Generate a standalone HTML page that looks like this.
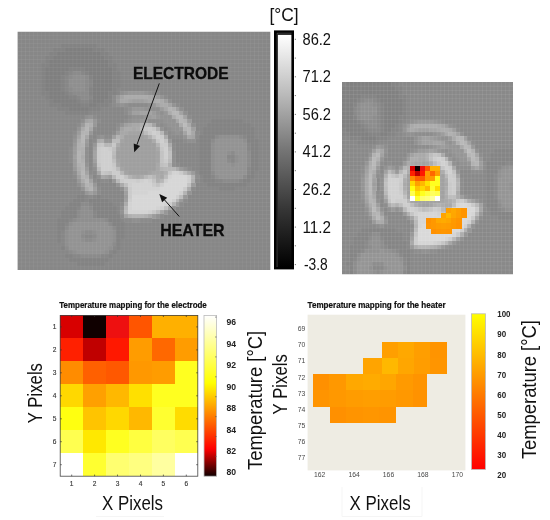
<!DOCTYPE html>
<html><head><meta charset="utf-8"><title>Temperature mapping</title>
<style>html,body{margin:0;padding:0;background:#fff;}svg{display:block;font-family:"Liberation Sans",sans-serif;}</style>
</head><body>
<svg width="550" height="520" viewBox="0 0 550 520">
<defs>
<linearGradient id="gbar" x1="0" y1="0" x2="0" y2="1"><stop offset="0" stop-color="#ffffff"/><stop offset="0.25" stop-color="#bcbcbc"/><stop offset="0.5" stop-color="#747474"/><stop offset="0.75" stop-color="#363636"/><stop offset="1" stop-color="#000000"/></linearGradient>
<linearGradient id="hot" x1="0" y1="1" x2="0" y2="0"><stop offset="0" stop-color="#100000"/><stop offset="0.17" stop-color="#ff0000"/><stop offset="0.58" stop-color="#ffff00"/><stop offset="1" stop-color="#ffffff"/></linearGradient>
<linearGradient id="aut" x1="0" y1="1" x2="0" y2="0"><stop offset="0" stop-color="#ff0000"/><stop offset="1" stop-color="#ffff00"/></linearGradient>
<filter id="soft" x="-5%" y="-5%" width="110%" height="110%"><feGaussianBlur stdDeviation="0.6"/></filter>
</defs>
<rect width="550" height="520" fill="#fff"/>
<clipPath id="cl"><rect x="17.6" y="31.7" width="252.70" height="238.30"/></clipPath>
<g clip-path="url(#cl)"><g filter="url(#soft)" shape-rendering="crispEdges">
<rect x="14.600000000000001" y="28.7" width="258.70" height="244.30" fill="rgb(135,135,135)"/>
<rect x="61.03" y="43.61" width="35.84" height="4.27" fill="rgb(131,131,131)"/>
<rect x="53.14" y="47.59" width="12.15" height="4.27" fill="rgb(131,131,131)"/>
<rect x="64.98" y="47.59" width="27.94" height="4.27" fill="rgb(127,127,127)"/>
<rect x="92.62" y="47.59" width="12.15" height="4.27" fill="rgb(131,131,131)"/>
<rect x="49.19" y="51.56" width="8.20" height="4.27" fill="rgb(131,131,131)"/>
<rect x="57.08" y="51.56" width="43.73" height="4.27" fill="rgb(127,127,127)"/>
<rect x="100.52" y="51.56" width="8.20" height="4.27" fill="rgb(131,131,131)"/>
<rect x="45.24" y="55.53" width="8.20" height="4.27" fill="rgb(131,131,131)"/>
<rect x="53.14" y="55.53" width="51.63" height="4.27" fill="rgb(127,127,127)"/>
<rect x="104.47" y="55.53" width="8.20" height="4.27" fill="rgb(131,131,131)"/>
<rect x="45.24" y="59.50" width="4.25" height="4.27" fill="rgb(131,131,131)"/>
<rect x="49.19" y="59.50" width="59.53" height="4.27" fill="rgb(127,127,127)"/>
<rect x="108.41" y="59.50" width="4.25" height="4.27" fill="rgb(131,131,131)"/>
<rect x="41.29" y="63.47" width="8.20" height="4.27" fill="rgb(131,131,131)"/>
<rect x="49.19" y="63.47" width="59.53" height="4.27" fill="rgb(127,127,127)"/>
<rect x="108.41" y="63.47" width="8.20" height="4.27" fill="rgb(131,131,131)"/>
<rect x="41.29" y="67.44" width="4.25" height="4.27" fill="rgb(131,131,131)"/>
<rect x="45.24" y="67.44" width="23.99" height="4.27" fill="rgb(127,127,127)"/>
<rect x="68.93" y="67.44" width="16.09" height="4.27" fill="rgb(131,131,131)"/>
<rect x="84.72" y="67.44" width="27.94" height="4.27" fill="rgb(127,127,127)"/>
<rect x="112.36" y="67.44" width="4.25" height="4.27" fill="rgb(131,131,131)"/>
<rect x="41.29" y="71.42" width="4.25" height="4.27" fill="rgb(131,131,131)"/>
<rect x="45.24" y="71.42" width="20.04" height="4.27" fill="rgb(127,127,127)"/>
<rect x="64.98" y="71.42" width="4.25" height="4.27" fill="rgb(131,131,131)"/>
<rect x="72.88" y="71.42" width="8.20" height="4.27" fill="rgb(139,139,139)"/>
<rect x="84.72" y="71.42" width="4.25" height="4.27" fill="rgb(131,131,131)"/>
<rect x="88.67" y="71.42" width="23.99" height="4.27" fill="rgb(127,127,127)"/>
<rect x="112.36" y="71.42" width="8.20" height="4.27" fill="rgb(131,131,131)"/>
<rect x="41.29" y="75.39" width="4.25" height="4.27" fill="rgb(131,131,131)"/>
<rect x="45.24" y="75.39" width="16.09" height="4.27" fill="rgb(127,127,127)"/>
<rect x="61.03" y="75.39" width="4.25" height="4.27" fill="rgb(131,131,131)"/>
<rect x="68.93" y="75.39" width="4.25" height="4.27" fill="rgb(139,139,139)"/>
<rect x="72.88" y="75.39" width="12.15" height="4.27" fill="rgb(143,143,143)"/>
<rect x="84.72" y="75.39" width="4.25" height="4.27" fill="rgb(139,139,139)"/>
<rect x="88.67" y="75.39" width="4.25" height="4.27" fill="rgb(131,131,131)"/>
<rect x="92.62" y="75.39" width="20.04" height="4.27" fill="rgb(127,127,127)"/>
<rect x="112.36" y="75.39" width="8.20" height="4.27" fill="rgb(131,131,131)"/>
<rect x="41.29" y="79.36" width="4.25" height="4.27" fill="rgb(131,131,131)"/>
<rect x="45.24" y="79.36" width="16.09" height="4.27" fill="rgb(127,127,127)"/>
<rect x="61.03" y="79.36" width="4.25" height="4.27" fill="rgb(131,131,131)"/>
<rect x="68.93" y="79.36" width="16.09" height="4.27" fill="rgb(143,143,143)"/>
<rect x="84.72" y="79.36" width="4.25" height="4.27" fill="rgb(139,139,139)"/>
<rect x="92.62" y="79.36" width="20.04" height="4.27" fill="rgb(127,127,127)"/>
<rect x="112.36" y="79.36" width="8.20" height="4.27" fill="rgb(131,131,131)"/>
<rect x="41.29" y="83.33" width="4.25" height="4.27" fill="rgb(131,131,131)"/>
<rect x="45.24" y="83.33" width="16.09" height="4.27" fill="rgb(127,127,127)"/>
<rect x="61.03" y="83.33" width="4.25" height="4.27" fill="rgb(131,131,131)"/>
<rect x="68.93" y="83.33" width="16.09" height="4.27" fill="rgb(143,143,143)"/>
<rect x="84.72" y="83.33" width="4.25" height="4.27" fill="rgb(139,139,139)"/>
<rect x="92.62" y="83.33" width="20.04" height="4.27" fill="rgb(127,127,127)"/>
<rect x="112.36" y="83.33" width="8.20" height="4.27" fill="rgb(131,131,131)"/>
<rect x="41.29" y="87.30" width="4.25" height="4.27" fill="rgb(131,131,131)"/>
<rect x="45.24" y="87.30" width="16.09" height="4.27" fill="rgb(127,127,127)"/>
<rect x="61.03" y="87.30" width="4.25" height="4.27" fill="rgb(131,131,131)"/>
<rect x="68.93" y="87.30" width="4.25" height="4.27" fill="rgb(139,139,139)"/>
<rect x="72.88" y="87.30" width="12.15" height="4.27" fill="rgb(143,143,143)"/>
<rect x="84.72" y="87.30" width="4.25" height="4.27" fill="rgb(139,139,139)"/>
<rect x="88.67" y="87.30" width="4.25" height="4.27" fill="rgb(131,131,131)"/>
<rect x="92.62" y="87.30" width="20.04" height="4.27" fill="rgb(127,127,127)"/>
<rect x="112.36" y="87.30" width="4.25" height="4.27" fill="rgb(131,131,131)"/>
<rect x="41.29" y="91.28" width="8.20" height="4.27" fill="rgb(131,131,131)"/>
<rect x="49.19" y="91.28" width="16.09" height="4.27" fill="rgb(127,127,127)"/>
<rect x="64.98" y="91.28" width="4.25" height="4.27" fill="rgb(131,131,131)"/>
<rect x="72.88" y="91.28" width="16.09" height="4.27" fill="rgb(139,139,139)"/>
<rect x="88.67" y="91.28" width="4.25" height="4.27" fill="rgb(131,131,131)"/>
<rect x="92.62" y="91.28" width="16.09" height="4.27" fill="rgb(127,127,127)"/>
<rect x="108.41" y="91.28" width="8.20" height="4.27" fill="rgb(131,131,131)"/>
<rect x="120.26" y="91.28" width="4.25" height="4.27" fill="rgb(143,143,143)"/>
<rect x="124.21" y="91.28" width="4.25" height="4.27" fill="rgb(147,147,147)"/>
<rect x="128.16" y="91.28" width="16.09" height="4.27" fill="rgb(151,151,151)"/>
<rect x="143.95" y="91.28" width="4.25" height="4.27" fill="rgb(147,147,147)"/>
<rect x="147.90" y="91.28" width="4.25" height="4.27" fill="rgb(143,143,143)"/>
<rect x="151.85" y="91.28" width="8.20" height="4.27" fill="rgb(139,139,139)"/>
<rect x="45.24" y="95.25" width="4.25" height="4.27" fill="rgb(131,131,131)"/>
<rect x="49.19" y="95.25" width="20.04" height="4.27" fill="rgb(127,127,127)"/>
<rect x="68.93" y="95.25" width="8.20" height="4.27" fill="rgb(131,131,131)"/>
<rect x="80.78" y="95.25" width="8.20" height="4.27" fill="rgb(139,139,139)"/>
<rect x="92.62" y="95.25" width="16.09" height="4.27" fill="rgb(127,127,127)"/>
<rect x="108.41" y="95.25" width="4.25" height="4.27" fill="rgb(131,131,131)"/>
<rect x="112.36" y="95.25" width="4.25" height="4.27" fill="rgb(139,139,139)"/>
<rect x="116.31" y="95.25" width="4.25" height="4.27" fill="rgb(151,151,151)"/>
<rect x="120.26" y="95.25" width="4.25" height="4.27" fill="rgb(163,163,163)"/>
<rect x="124.21" y="95.25" width="23.99" height="4.27" fill="rgb(171,171,171)"/>
<rect x="147.90" y="95.25" width="4.25" height="4.27" fill="rgb(167,167,167)"/>
<rect x="151.85" y="95.25" width="4.25" height="4.27" fill="rgb(163,163,163)"/>
<rect x="155.80" y="95.25" width="4.25" height="4.27" fill="rgb(155,155,155)"/>
<rect x="159.74" y="95.25" width="4.25" height="4.27" fill="rgb(147,147,147)"/>
<rect x="163.69" y="95.25" width="4.25" height="4.27" fill="rgb(139,139,139)"/>
<rect x="49.19" y="99.22" width="4.25" height="4.27" fill="rgb(131,131,131)"/>
<rect x="53.14" y="99.22" width="23.99" height="4.27" fill="rgb(127,127,127)"/>
<rect x="76.83" y="99.22" width="4.25" height="4.27" fill="rgb(131,131,131)"/>
<rect x="88.67" y="99.22" width="4.25" height="4.27" fill="rgb(131,131,131)"/>
<rect x="92.62" y="99.22" width="12.15" height="4.27" fill="rgb(127,127,127)"/>
<rect x="104.47" y="99.22" width="8.20" height="4.27" fill="rgb(131,131,131)"/>
<rect x="112.36" y="99.22" width="4.25" height="4.27" fill="rgb(139,139,139)"/>
<rect x="116.31" y="99.22" width="4.25" height="4.27" fill="rgb(155,155,155)"/>
<rect x="120.26" y="99.22" width="8.20" height="4.27" fill="rgb(167,167,167)"/>
<rect x="128.16" y="99.22" width="4.25" height="4.27" fill="rgb(163,163,163)"/>
<rect x="132.10" y="99.22" width="12.15" height="4.27" fill="rgb(159,159,159)"/>
<rect x="143.95" y="99.22" width="4.25" height="4.27" fill="rgb(163,163,163)"/>
<rect x="147.90" y="99.22" width="4.25" height="4.27" fill="rgb(167,167,167)"/>
<rect x="151.85" y="99.22" width="4.25" height="4.27" fill="rgb(171,171,171)"/>
<rect x="155.80" y="99.22" width="4.25" height="4.27" fill="rgb(175,175,175)"/>
<rect x="159.74" y="99.22" width="4.25" height="4.27" fill="rgb(171,171,171)"/>
<rect x="163.69" y="99.22" width="4.25" height="4.27" fill="rgb(159,159,159)"/>
<rect x="167.64" y="99.22" width="4.25" height="4.27" fill="rgb(143,143,143)"/>
<rect x="49.19" y="103.19" width="12.15" height="4.27" fill="rgb(131,131,131)"/>
<rect x="61.03" y="103.19" width="20.04" height="4.27" fill="rgb(127,127,127)"/>
<rect x="80.78" y="103.19" width="8.20" height="4.27" fill="rgb(131,131,131)"/>
<rect x="88.67" y="103.19" width="8.20" height="4.27" fill="rgb(127,127,127)"/>
<rect x="96.57" y="103.19" width="12.15" height="4.27" fill="rgb(131,131,131)"/>
<rect x="112.36" y="103.19" width="4.25" height="4.27" fill="rgb(139,139,139)"/>
<rect x="116.31" y="103.19" width="4.25" height="4.27" fill="rgb(143,143,143)"/>
<rect x="120.26" y="103.19" width="4.25" height="4.27" fill="rgb(147,147,147)"/>
<rect x="124.21" y="103.19" width="4.25" height="4.27" fill="rgb(143,143,143)"/>
<rect x="128.16" y="103.19" width="20.04" height="4.27" fill="rgb(139,139,139)"/>
<rect x="147.90" y="103.19" width="4.25" height="4.27" fill="rgb(143,143,143)"/>
<rect x="151.85" y="103.19" width="4.25" height="4.27" fill="rgb(151,151,151)"/>
<rect x="155.80" y="103.19" width="4.25" height="4.27" fill="rgb(163,163,163)"/>
<rect x="159.74" y="103.19" width="8.20" height="4.27" fill="rgb(171,171,171)"/>
<rect x="167.64" y="103.19" width="4.25" height="4.27" fill="rgb(163,163,163)"/>
<rect x="171.59" y="103.19" width="4.25" height="4.27" fill="rgb(147,147,147)"/>
<rect x="175.54" y="103.19" width="4.25" height="4.27" fill="rgb(139,139,139)"/>
<rect x="57.08" y="107.16" width="12.15" height="4.27" fill="rgb(131,131,131)"/>
<rect x="68.93" y="107.16" width="20.04" height="4.27" fill="rgb(127,127,127)"/>
<rect x="88.67" y="107.16" width="12.15" height="4.27" fill="rgb(131,131,131)"/>
<rect x="124.21" y="107.16" width="4.25" height="4.27" fill="rgb(139,139,139)"/>
<rect x="128.16" y="107.16" width="4.25" height="4.27" fill="rgb(143,143,143)"/>
<rect x="132.10" y="107.16" width="12.15" height="4.27" fill="rgb(151,151,151)"/>
<rect x="143.95" y="107.16" width="4.25" height="4.27" fill="rgb(147,147,147)"/>
<rect x="147.90" y="107.16" width="12.15" height="4.27" fill="rgb(143,143,143)"/>
<rect x="159.74" y="107.16" width="4.25" height="4.27" fill="rgb(155,155,155)"/>
<rect x="163.69" y="107.16" width="4.25" height="4.27" fill="rgb(167,167,167)"/>
<rect x="167.64" y="107.16" width="4.25" height="4.27" fill="rgb(179,179,179)"/>
<rect x="171.59" y="107.16" width="4.25" height="4.27" fill="rgb(175,175,175)"/>
<rect x="175.54" y="107.16" width="4.25" height="4.27" fill="rgb(159,159,159)"/>
<rect x="179.49" y="107.16" width="4.25" height="4.27" fill="rgb(143,143,143)"/>
<rect x="64.98" y="111.13" width="23.99" height="4.27" fill="rgb(131,131,131)"/>
<rect x="124.21" y="111.13" width="4.25" height="4.27" fill="rgb(139,139,139)"/>
<rect x="128.16" y="111.13" width="4.25" height="4.27" fill="rgb(147,147,147)"/>
<rect x="132.10" y="111.13" width="8.20" height="4.27" fill="rgb(159,159,159)"/>
<rect x="140.00" y="111.13" width="12.15" height="4.27" fill="rgb(163,163,163)"/>
<rect x="151.85" y="111.13" width="4.25" height="4.27" fill="rgb(155,155,155)"/>
<rect x="155.80" y="111.13" width="4.25" height="4.27" fill="rgb(147,147,147)"/>
<rect x="159.74" y="111.13" width="4.25" height="4.27" fill="rgb(143,143,143)"/>
<rect x="163.69" y="111.13" width="4.25" height="4.27" fill="rgb(151,151,151)"/>
<rect x="167.64" y="111.13" width="4.25" height="4.27" fill="rgb(171,171,171)"/>
<rect x="171.59" y="111.13" width="8.20" height="4.27" fill="rgb(183,183,183)"/>
<rect x="179.49" y="111.13" width="4.25" height="4.27" fill="rgb(163,163,163)"/>
<rect x="183.43" y="111.13" width="4.25" height="4.27" fill="rgb(143,143,143)"/>
<rect x="84.72" y="115.11" width="4.25" height="4.27" fill="rgb(143,143,143)"/>
<rect x="88.67" y="115.11" width="4.25" height="4.27" fill="rgb(147,147,147)"/>
<rect x="92.62" y="115.11" width="4.25" height="4.27" fill="rgb(139,139,139)"/>
<rect x="128.16" y="115.11" width="4.25" height="4.27" fill="rgb(139,139,139)"/>
<rect x="132.10" y="115.11" width="12.15" height="4.27" fill="rgb(143,143,143)"/>
<rect x="143.95" y="115.11" width="4.25" height="4.27" fill="rgb(147,147,147)"/>
<rect x="147.90" y="115.11" width="4.25" height="4.27" fill="rgb(155,155,155)"/>
<rect x="151.85" y="115.11" width="4.25" height="4.27" fill="rgb(159,159,159)"/>
<rect x="155.80" y="115.11" width="4.25" height="4.27" fill="rgb(151,151,151)"/>
<rect x="159.74" y="115.11" width="12.15" height="4.27" fill="rgb(147,147,147)"/>
<rect x="171.59" y="115.11" width="4.25" height="4.27" fill="rgb(171,171,171)"/>
<rect x="175.54" y="115.11" width="8.20" height="4.27" fill="rgb(183,183,183)"/>
<rect x="183.43" y="115.11" width="4.25" height="4.27" fill="rgb(163,163,163)"/>
<rect x="187.38" y="115.11" width="4.25" height="4.27" fill="rgb(139,139,139)"/>
<rect x="80.78" y="119.08" width="4.25" height="4.27" fill="rgb(143,143,143)"/>
<rect x="84.72" y="119.08" width="4.25" height="4.27" fill="rgb(163,163,163)"/>
<rect x="88.67" y="119.08" width="4.25" height="4.27" fill="rgb(167,167,167)"/>
<rect x="92.62" y="119.08" width="4.25" height="4.27" fill="rgb(151,151,151)"/>
<rect x="96.57" y="119.08" width="4.25" height="4.27" fill="rgb(139,139,139)"/>
<rect x="124.21" y="119.08" width="4.25" height="4.27" fill="rgb(139,139,139)"/>
<rect x="128.16" y="119.08" width="4.25" height="4.27" fill="rgb(143,143,143)"/>
<rect x="132.10" y="119.08" width="8.20" height="4.27" fill="rgb(147,147,147)"/>
<rect x="140.00" y="119.08" width="8.20" height="4.27" fill="rgb(151,151,151)"/>
<rect x="147.90" y="119.08" width="16.09" height="4.27" fill="rgb(143,143,143)"/>
<rect x="163.69" y="119.08" width="12.15" height="4.27" fill="rgb(147,147,147)"/>
<rect x="175.54" y="119.08" width="4.25" height="4.27" fill="rgb(167,167,167)"/>
<rect x="179.49" y="119.08" width="4.25" height="4.27" fill="rgb(183,183,183)"/>
<rect x="183.43" y="119.08" width="4.25" height="4.27" fill="rgb(179,179,179)"/>
<rect x="187.38" y="119.08" width="4.25" height="4.27" fill="rgb(155,155,155)"/>
<rect x="211.07" y="119.08" width="31.89" height="4.27" fill="rgb(131,131,131)"/>
<rect x="76.83" y="123.05" width="4.25" height="4.27" fill="rgb(139,139,139)"/>
<rect x="80.78" y="123.05" width="4.25" height="4.27" fill="rgb(155,155,155)"/>
<rect x="84.72" y="123.05" width="4.25" height="4.27" fill="rgb(179,179,179)"/>
<rect x="88.67" y="123.05" width="4.25" height="4.27" fill="rgb(175,175,175)"/>
<rect x="92.62" y="123.05" width="4.25" height="4.27" fill="rgb(151,151,151)"/>
<rect x="116.31" y="123.05" width="4.25" height="4.27" fill="rgb(139,139,139)"/>
<rect x="120.26" y="123.05" width="4.25" height="4.27" fill="rgb(147,147,147)"/>
<rect x="124.21" y="123.05" width="4.25" height="4.27" fill="rgb(159,159,159)"/>
<rect x="128.16" y="123.05" width="4.25" height="4.27" fill="rgb(163,163,163)"/>
<rect x="132.10" y="123.05" width="8.20" height="4.27" fill="rgb(167,167,167)"/>
<rect x="140.00" y="123.05" width="4.25" height="4.27" fill="rgb(175,175,175)"/>
<rect x="143.95" y="123.05" width="4.25" height="4.27" fill="rgb(187,187,187)"/>
<rect x="147.90" y="123.05" width="4.25" height="4.27" fill="rgb(183,183,183)"/>
<rect x="151.85" y="123.05" width="4.25" height="4.27" fill="rgb(163,163,163)"/>
<rect x="155.80" y="123.05" width="4.25" height="4.27" fill="rgb(143,143,143)"/>
<rect x="159.74" y="123.05" width="4.25" height="4.27" fill="rgb(139,139,139)"/>
<rect x="163.69" y="123.05" width="4.25" height="4.27" fill="rgb(143,143,143)"/>
<rect x="167.64" y="123.05" width="12.15" height="4.27" fill="rgb(147,147,147)"/>
<rect x="179.49" y="123.05" width="4.25" height="4.27" fill="rgb(171,171,171)"/>
<rect x="183.43" y="123.05" width="4.25" height="4.27" fill="rgb(187,187,187)"/>
<rect x="187.38" y="123.05" width="4.25" height="4.27" fill="rgb(171,171,171)"/>
<rect x="191.33" y="123.05" width="4.25" height="4.27" fill="rgb(143,143,143)"/>
<rect x="207.12" y="123.05" width="43.73" height="4.27" fill="rgb(131,131,131)"/>
<rect x="76.83" y="127.02" width="4.25" height="4.27" fill="rgb(147,147,147)"/>
<rect x="80.78" y="127.02" width="4.25" height="4.27" fill="rgb(171,171,171)"/>
<rect x="84.72" y="127.02" width="4.25" height="4.27" fill="rgb(183,183,183)"/>
<rect x="88.67" y="127.02" width="4.25" height="4.27" fill="rgb(167,167,167)"/>
<rect x="92.62" y="127.02" width="4.25" height="4.27" fill="rgb(139,139,139)"/>
<rect x="116.31" y="127.02" width="4.25" height="4.27" fill="rgb(143,143,143)"/>
<rect x="120.26" y="127.02" width="4.25" height="4.27" fill="rgb(163,163,163)"/>
<rect x="124.21" y="127.02" width="8.20" height="4.27" fill="rgb(171,171,171)"/>
<rect x="132.10" y="127.02" width="4.25" height="4.27" fill="rgb(167,167,167)"/>
<rect x="136.05" y="127.02" width="4.25" height="4.27" fill="rgb(171,171,171)"/>
<rect x="140.00" y="127.02" width="4.25" height="4.27" fill="rgb(183,183,183)"/>
<rect x="143.95" y="127.02" width="4.25" height="4.27" fill="rgb(199,199,199)"/>
<rect x="147.90" y="127.02" width="4.25" height="4.27" fill="rgb(203,203,203)"/>
<rect x="151.85" y="127.02" width="4.25" height="4.27" fill="rgb(199,199,199)"/>
<rect x="155.80" y="127.02" width="4.25" height="4.27" fill="rgb(179,179,179)"/>
<rect x="159.74" y="127.02" width="4.25" height="4.27" fill="rgb(147,147,147)"/>
<rect x="163.69" y="127.02" width="4.25" height="4.27" fill="rgb(139,139,139)"/>
<rect x="167.64" y="127.02" width="4.25" height="4.27" fill="rgb(143,143,143)"/>
<rect x="171.59" y="127.02" width="8.20" height="4.27" fill="rgb(147,147,147)"/>
<rect x="179.49" y="127.02" width="4.25" height="4.27" fill="rgb(151,151,151)"/>
<rect x="183.43" y="127.02" width="4.25" height="4.27" fill="rgb(179,179,179)"/>
<rect x="187.38" y="127.02" width="4.25" height="4.27" fill="rgb(183,183,183)"/>
<rect x="191.33" y="127.02" width="4.25" height="4.27" fill="rgb(159,159,159)"/>
<rect x="203.18" y="127.02" width="51.63" height="4.27" fill="rgb(131,131,131)"/>
<rect x="72.88" y="130.99" width="4.25" height="4.27" fill="rgb(139,139,139)"/>
<rect x="76.83" y="130.99" width="4.25" height="4.27" fill="rgb(155,155,155)"/>
<rect x="80.78" y="130.99" width="8.20" height="4.27" fill="rgb(179,179,179)"/>
<rect x="88.67" y="130.99" width="4.25" height="4.27" fill="rgb(151,151,151)"/>
<rect x="112.36" y="130.99" width="4.25" height="4.27" fill="rgb(139,139,139)"/>
<rect x="116.31" y="130.99" width="4.25" height="4.27" fill="rgb(155,155,155)"/>
<rect x="120.26" y="130.99" width="8.20" height="4.27" fill="rgb(167,167,167)"/>
<rect x="128.16" y="130.99" width="12.15" height="4.27" fill="rgb(163,163,163)"/>
<rect x="140.00" y="130.99" width="4.25" height="4.27" fill="rgb(171,171,171)"/>
<rect x="143.95" y="130.99" width="4.25" height="4.27" fill="rgb(187,187,187)"/>
<rect x="147.90" y="130.99" width="4.25" height="4.27" fill="rgb(199,199,199)"/>
<rect x="151.85" y="130.99" width="4.25" height="4.27" fill="rgb(207,207,207)"/>
<rect x="155.80" y="130.99" width="4.25" height="4.27" fill="rgb(203,203,203)"/>
<rect x="159.74" y="130.99" width="4.25" height="4.27" fill="rgb(183,183,183)"/>
<rect x="163.69" y="130.99" width="4.25" height="4.27" fill="rgb(147,147,147)"/>
<rect x="167.64" y="130.99" width="4.25" height="4.27" fill="rgb(139,139,139)"/>
<rect x="171.59" y="130.99" width="4.25" height="4.27" fill="rgb(143,143,143)"/>
<rect x="175.54" y="130.99" width="4.25" height="4.27" fill="rgb(147,147,147)"/>
<rect x="179.49" y="130.99" width="4.25" height="4.27" fill="rgb(143,143,143)"/>
<rect x="183.43" y="130.99" width="4.25" height="4.27" fill="rgb(163,163,163)"/>
<rect x="187.38" y="130.99" width="4.25" height="4.27" fill="rgb(183,183,183)"/>
<rect x="191.33" y="130.99" width="4.25" height="4.27" fill="rgb(167,167,167)"/>
<rect x="195.28" y="130.99" width="4.25" height="4.27" fill="rgb(139,139,139)"/>
<rect x="203.18" y="130.99" width="51.63" height="4.27" fill="rgb(131,131,131)"/>
<rect x="72.88" y="134.96" width="4.25" height="4.27" fill="rgb(143,143,143)"/>
<rect x="76.83" y="134.96" width="4.25" height="4.27" fill="rgb(163,163,163)"/>
<rect x="80.78" y="134.96" width="4.25" height="4.27" fill="rgb(183,183,183)"/>
<rect x="84.72" y="134.96" width="4.25" height="4.27" fill="rgb(167,167,167)"/>
<rect x="88.67" y="134.96" width="4.25" height="4.27" fill="rgb(139,139,139)"/>
<rect x="96.57" y="134.96" width="4.25" height="4.27" fill="rgb(143,143,143)"/>
<rect x="100.52" y="134.96" width="4.25" height="4.27" fill="rgb(147,147,147)"/>
<rect x="104.47" y="134.96" width="8.20" height="4.27" fill="rgb(139,139,139)"/>
<rect x="112.36" y="134.96" width="4.25" height="4.27" fill="rgb(159,159,159)"/>
<rect x="116.31" y="134.96" width="4.25" height="4.27" fill="rgb(179,179,179)"/>
<rect x="120.26" y="134.96" width="4.25" height="4.27" fill="rgb(171,171,171)"/>
<rect x="124.21" y="134.96" width="20.04" height="4.27" fill="rgb(159,159,159)"/>
<rect x="143.95" y="134.96" width="4.25" height="4.27" fill="rgb(163,163,163)"/>
<rect x="147.90" y="134.96" width="4.25" height="4.27" fill="rgb(175,175,175)"/>
<rect x="151.85" y="134.96" width="4.25" height="4.27" fill="rgb(195,195,195)"/>
<rect x="155.80" y="134.96" width="4.25" height="4.27" fill="rgb(207,207,207)"/>
<rect x="159.74" y="134.96" width="4.25" height="4.27" fill="rgb(203,203,203)"/>
<rect x="163.69" y="134.96" width="4.25" height="4.27" fill="rgb(171,171,171)"/>
<rect x="167.64" y="134.96" width="16.09" height="4.27" fill="rgb(139,139,139)"/>
<rect x="183.43" y="134.96" width="4.25" height="4.27" fill="rgb(147,147,147)"/>
<rect x="187.38" y="134.96" width="4.25" height="4.27" fill="rgb(167,167,167)"/>
<rect x="191.33" y="134.96" width="4.25" height="4.27" fill="rgb(163,163,163)"/>
<rect x="195.28" y="134.96" width="4.25" height="4.27" fill="rgb(139,139,139)"/>
<rect x="199.23" y="134.96" width="16.09" height="4.27" fill="rgb(131,131,131)"/>
<rect x="215.02" y="134.96" width="4.25" height="4.27" fill="rgb(139,139,139)"/>
<rect x="218.97" y="134.96" width="20.04" height="4.27" fill="rgb(143,143,143)"/>
<rect x="238.71" y="134.96" width="4.25" height="4.27" fill="rgb(139,139,139)"/>
<rect x="246.61" y="134.96" width="8.20" height="4.27" fill="rgb(131,131,131)"/>
<rect x="72.88" y="138.94" width="4.25" height="4.27" fill="rgb(147,147,147)"/>
<rect x="76.83" y="138.94" width="4.25" height="4.27" fill="rgb(171,171,171)"/>
<rect x="80.78" y="138.94" width="4.25" height="4.27" fill="rgb(183,183,183)"/>
<rect x="84.72" y="138.94" width="4.25" height="4.27" fill="rgb(155,155,155)"/>
<rect x="92.62" y="138.94" width="4.25" height="4.27" fill="rgb(139,139,139)"/>
<rect x="96.57" y="138.94" width="4.25" height="4.27" fill="rgb(171,171,171)"/>
<rect x="100.52" y="138.94" width="4.25" height="4.27" fill="rgb(175,175,175)"/>
<rect x="104.47" y="138.94" width="8.20" height="4.27" fill="rgb(151,151,151)"/>
<rect x="112.36" y="138.94" width="8.20" height="4.27" fill="rgb(187,187,187)"/>
<rect x="120.26" y="138.94" width="4.25" height="4.27" fill="rgb(163,163,163)"/>
<rect x="124.21" y="138.94" width="27.94" height="4.27" fill="rgb(159,159,159)"/>
<rect x="151.85" y="138.94" width="4.25" height="4.27" fill="rgb(171,171,171)"/>
<rect x="155.80" y="138.94" width="4.25" height="4.27" fill="rgb(199,199,199)"/>
<rect x="159.74" y="138.94" width="4.25" height="4.27" fill="rgb(207,207,207)"/>
<rect x="163.69" y="138.94" width="4.25" height="4.27" fill="rgb(195,195,195)"/>
<rect x="167.64" y="138.94" width="4.25" height="4.27" fill="rgb(151,151,151)"/>
<rect x="183.43" y="138.94" width="4.25" height="4.27" fill="rgb(139,139,139)"/>
<rect x="187.38" y="138.94" width="8.20" height="4.27" fill="rgb(143,143,143)"/>
<rect x="199.23" y="138.94" width="12.15" height="4.27" fill="rgb(131,131,131)"/>
<rect x="211.07" y="138.94" width="4.25" height="4.27" fill="rgb(139,139,139)"/>
<rect x="215.02" y="138.94" width="27.94" height="4.27" fill="rgb(147,147,147)"/>
<rect x="242.66" y="138.94" width="4.25" height="4.27" fill="rgb(143,143,143)"/>
<rect x="246.61" y="138.94" width="12.15" height="4.27" fill="rgb(131,131,131)"/>
<rect x="72.88" y="142.91" width="4.25" height="4.27" fill="rgb(151,151,151)"/>
<rect x="76.83" y="142.91" width="4.25" height="4.27" fill="rgb(175,175,175)"/>
<rect x="80.78" y="142.91" width="4.25" height="4.27" fill="rgb(179,179,179)"/>
<rect x="84.72" y="142.91" width="4.25" height="4.27" fill="rgb(151,151,151)"/>
<rect x="92.62" y="142.91" width="4.25" height="4.27" fill="rgb(151,151,151)"/>
<rect x="96.57" y="142.91" width="4.25" height="4.27" fill="rgb(195,195,195)"/>
<rect x="100.52" y="142.91" width="4.25" height="4.27" fill="rgb(199,199,199)"/>
<rect x="104.47" y="142.91" width="8.20" height="4.27" fill="rgb(183,183,183)"/>
<rect x="112.36" y="142.91" width="4.25" height="4.27" fill="rgb(199,199,199)"/>
<rect x="116.31" y="142.91" width="4.25" height="4.27" fill="rgb(171,171,171)"/>
<rect x="120.26" y="142.91" width="35.84" height="4.27" fill="rgb(159,159,159)"/>
<rect x="155.80" y="142.91" width="4.25" height="4.27" fill="rgb(179,179,179)"/>
<rect x="159.74" y="142.91" width="8.20" height="4.27" fill="rgb(203,203,203)"/>
<rect x="167.64" y="142.91" width="4.25" height="4.27" fill="rgb(171,171,171)"/>
<rect x="171.59" y="142.91" width="4.25" height="4.27" fill="rgb(139,139,139)"/>
<rect x="199.23" y="142.91" width="12.15" height="4.27" fill="rgb(131,131,131)"/>
<rect x="211.07" y="142.91" width="4.25" height="4.27" fill="rgb(143,143,143)"/>
<rect x="215.02" y="142.91" width="31.89" height="4.27" fill="rgb(147,147,147)"/>
<rect x="250.56" y="142.91" width="8.20" height="4.27" fill="rgb(131,131,131)"/>
<rect x="68.93" y="146.88" width="4.25" height="4.27" fill="rgb(139,139,139)"/>
<rect x="72.88" y="146.88" width="4.25" height="4.27" fill="rgb(155,155,155)"/>
<rect x="76.83" y="146.88" width="8.20" height="4.27" fill="rgb(175,175,175)"/>
<rect x="84.72" y="146.88" width="4.25" height="4.27" fill="rgb(143,143,143)"/>
<rect x="92.62" y="146.88" width="4.25" height="4.27" fill="rgb(159,159,159)"/>
<rect x="96.57" y="146.88" width="4.25" height="4.27" fill="rgb(203,203,203)"/>
<rect x="100.52" y="146.88" width="8.20" height="4.27" fill="rgb(207,207,207)"/>
<rect x="108.41" y="146.88" width="4.25" height="4.27" fill="rgb(203,203,203)"/>
<rect x="112.36" y="146.88" width="4.25" height="4.27" fill="rgb(191,191,191)"/>
<rect x="116.31" y="146.88" width="4.25" height="4.27" fill="rgb(163,163,163)"/>
<rect x="120.26" y="146.88" width="35.84" height="4.27" fill="rgb(159,159,159)"/>
<rect x="155.80" y="146.88" width="4.25" height="4.27" fill="rgb(167,167,167)"/>
<rect x="159.74" y="146.88" width="4.25" height="4.27" fill="rgb(199,199,199)"/>
<rect x="163.69" y="146.88" width="4.25" height="4.27" fill="rgb(207,207,207)"/>
<rect x="167.64" y="146.88" width="4.25" height="4.27" fill="rgb(183,183,183)"/>
<rect x="171.59" y="146.88" width="4.25" height="4.27" fill="rgb(139,139,139)"/>
<rect x="199.23" y="146.88" width="12.15" height="4.27" fill="rgb(131,131,131)"/>
<rect x="211.07" y="146.88" width="4.25" height="4.27" fill="rgb(143,143,143)"/>
<rect x="215.02" y="146.88" width="31.89" height="4.27" fill="rgb(147,147,147)"/>
<rect x="250.56" y="146.88" width="8.20" height="4.27" fill="rgb(131,131,131)"/>
<rect x="68.93" y="150.85" width="4.25" height="4.27" fill="rgb(139,139,139)"/>
<rect x="72.88" y="150.85" width="4.25" height="4.27" fill="rgb(155,155,155)"/>
<rect x="76.83" y="150.85" width="4.25" height="4.27" fill="rgb(179,179,179)"/>
<rect x="80.78" y="150.85" width="4.25" height="4.27" fill="rgb(175,175,175)"/>
<rect x="84.72" y="150.85" width="4.25" height="4.27" fill="rgb(143,143,143)"/>
<rect x="92.62" y="150.85" width="4.25" height="4.27" fill="rgb(163,163,163)"/>
<rect x="96.57" y="150.85" width="4.25" height="4.27" fill="rgb(203,203,203)"/>
<rect x="100.52" y="150.85" width="12.15" height="4.27" fill="rgb(207,207,207)"/>
<rect x="112.36" y="150.85" width="4.25" height="4.27" fill="rgb(187,187,187)"/>
<rect x="116.31" y="150.85" width="39.78" height="4.27" fill="rgb(159,159,159)"/>
<rect x="155.80" y="150.85" width="4.25" height="4.27" fill="rgb(163,163,163)"/>
<rect x="159.74" y="150.85" width="4.25" height="4.27" fill="rgb(195,195,195)"/>
<rect x="163.69" y="150.85" width="4.25" height="4.27" fill="rgb(207,207,207)"/>
<rect x="167.64" y="150.85" width="4.25" height="4.27" fill="rgb(191,191,191)"/>
<rect x="171.59" y="150.85" width="4.25" height="4.27" fill="rgb(143,143,143)"/>
<rect x="199.23" y="150.85" width="12.15" height="4.27" fill="rgb(131,131,131)"/>
<rect x="211.07" y="150.85" width="4.25" height="4.27" fill="rgb(143,143,143)"/>
<rect x="215.02" y="150.85" width="12.15" height="4.27" fill="rgb(147,147,147)"/>
<rect x="226.87" y="150.85" width="4.25" height="4.27" fill="rgb(143,143,143)"/>
<rect x="230.82" y="150.85" width="4.25" height="4.27" fill="rgb(139,139,139)"/>
<rect x="234.76" y="150.85" width="12.15" height="4.27" fill="rgb(147,147,147)"/>
<rect x="246.61" y="150.85" width="4.25" height="4.27" fill="rgb(139,139,139)"/>
<rect x="250.56" y="150.85" width="8.20" height="4.27" fill="rgb(131,131,131)"/>
<rect x="68.93" y="154.82" width="4.25" height="4.27" fill="rgb(139,139,139)"/>
<rect x="72.88" y="154.82" width="4.25" height="4.27" fill="rgb(159,159,159)"/>
<rect x="76.83" y="154.82" width="4.25" height="4.27" fill="rgb(179,179,179)"/>
<rect x="80.78" y="154.82" width="4.25" height="4.27" fill="rgb(171,171,171)"/>
<rect x="84.72" y="154.82" width="4.25" height="4.27" fill="rgb(143,143,143)"/>
<rect x="92.62" y="154.82" width="4.25" height="4.27" fill="rgb(163,163,163)"/>
<rect x="96.57" y="154.82" width="4.25" height="4.27" fill="rgb(203,203,203)"/>
<rect x="100.52" y="154.82" width="12.15" height="4.27" fill="rgb(207,207,207)"/>
<rect x="112.36" y="154.82" width="4.25" height="4.27" fill="rgb(183,183,183)"/>
<rect x="116.31" y="154.82" width="39.78" height="4.27" fill="rgb(159,159,159)"/>
<rect x="155.80" y="154.82" width="4.25" height="4.27" fill="rgb(163,163,163)"/>
<rect x="159.74" y="154.82" width="4.25" height="4.27" fill="rgb(195,195,195)"/>
<rect x="163.69" y="154.82" width="4.25" height="4.27" fill="rgb(207,207,207)"/>
<rect x="167.64" y="154.82" width="4.25" height="4.27" fill="rgb(191,191,191)"/>
<rect x="171.59" y="154.82" width="4.25" height="4.27" fill="rgb(143,143,143)"/>
<rect x="199.23" y="154.82" width="12.15" height="4.27" fill="rgb(131,131,131)"/>
<rect x="211.07" y="154.82" width="4.25" height="4.27" fill="rgb(143,143,143)"/>
<rect x="215.02" y="154.82" width="12.15" height="4.27" fill="rgb(147,147,147)"/>
<rect x="234.76" y="154.82" width="4.25" height="4.27" fill="rgb(143,143,143)"/>
<rect x="238.71" y="154.82" width="8.20" height="4.27" fill="rgb(147,147,147)"/>
<rect x="246.61" y="154.82" width="4.25" height="4.27" fill="rgb(139,139,139)"/>
<rect x="250.56" y="154.82" width="8.20" height="4.27" fill="rgb(131,131,131)"/>
<rect x="68.93" y="158.79" width="4.25" height="4.27" fill="rgb(139,139,139)"/>
<rect x="72.88" y="158.79" width="4.25" height="4.27" fill="rgb(155,155,155)"/>
<rect x="76.83" y="158.79" width="4.25" height="4.27" fill="rgb(179,179,179)"/>
<rect x="80.78" y="158.79" width="4.25" height="4.27" fill="rgb(175,175,175)"/>
<rect x="84.72" y="158.79" width="4.25" height="4.27" fill="rgb(143,143,143)"/>
<rect x="92.62" y="158.79" width="4.25" height="4.27" fill="rgb(159,159,159)"/>
<rect x="96.57" y="158.79" width="4.25" height="4.27" fill="rgb(203,203,203)"/>
<rect x="100.52" y="158.79" width="12.15" height="4.27" fill="rgb(207,207,207)"/>
<rect x="112.36" y="158.79" width="4.25" height="4.27" fill="rgb(191,191,191)"/>
<rect x="116.31" y="158.79" width="4.25" height="4.27" fill="rgb(163,163,163)"/>
<rect x="120.26" y="158.79" width="35.84" height="4.27" fill="rgb(159,159,159)"/>
<rect x="155.80" y="158.79" width="4.25" height="4.27" fill="rgb(163,163,163)"/>
<rect x="159.74" y="158.79" width="4.25" height="4.27" fill="rgb(195,195,195)"/>
<rect x="163.69" y="158.79" width="4.25" height="4.27" fill="rgb(203,203,203)"/>
<rect x="167.64" y="158.79" width="4.25" height="4.27" fill="rgb(187,187,187)"/>
<rect x="171.59" y="158.79" width="4.25" height="4.27" fill="rgb(143,143,143)"/>
<rect x="199.23" y="158.79" width="12.15" height="4.27" fill="rgb(131,131,131)"/>
<rect x="211.07" y="158.79" width="4.25" height="4.27" fill="rgb(143,143,143)"/>
<rect x="215.02" y="158.79" width="12.15" height="4.27" fill="rgb(147,147,147)"/>
<rect x="226.87" y="158.79" width="4.25" height="4.27" fill="rgb(139,139,139)"/>
<rect x="234.76" y="158.79" width="4.25" height="4.27" fill="rgb(143,143,143)"/>
<rect x="238.71" y="158.79" width="8.20" height="4.27" fill="rgb(147,147,147)"/>
<rect x="246.61" y="158.79" width="4.25" height="4.27" fill="rgb(139,139,139)"/>
<rect x="250.56" y="158.79" width="8.20" height="4.27" fill="rgb(131,131,131)"/>
<rect x="72.88" y="162.76" width="4.25" height="4.27" fill="rgb(155,155,155)"/>
<rect x="76.83" y="162.76" width="4.25" height="4.27" fill="rgb(175,175,175)"/>
<rect x="80.78" y="162.76" width="4.25" height="4.27" fill="rgb(179,179,179)"/>
<rect x="84.72" y="162.76" width="4.25" height="4.27" fill="rgb(147,147,147)"/>
<rect x="92.62" y="162.76" width="4.25" height="4.27" fill="rgb(151,151,151)"/>
<rect x="96.57" y="162.76" width="4.25" height="4.27" fill="rgb(199,199,199)"/>
<rect x="100.52" y="162.76" width="12.15" height="4.27" fill="rgb(207,207,207)"/>
<rect x="112.36" y="162.76" width="4.25" height="4.27" fill="rgb(199,199,199)"/>
<rect x="116.31" y="162.76" width="4.25" height="4.27" fill="rgb(167,167,167)"/>
<rect x="120.26" y="162.76" width="35.84" height="4.27" fill="rgb(159,159,159)"/>
<rect x="155.80" y="162.76" width="4.25" height="4.27" fill="rgb(167,167,167)"/>
<rect x="159.74" y="162.76" width="4.25" height="4.27" fill="rgb(191,191,191)"/>
<rect x="163.69" y="162.76" width="4.25" height="4.27" fill="rgb(195,195,195)"/>
<rect x="167.64" y="162.76" width="4.25" height="4.27" fill="rgb(175,175,175)"/>
<rect x="171.59" y="162.76" width="4.25" height="4.27" fill="rgb(143,143,143)"/>
<rect x="175.54" y="162.76" width="4.25" height="4.27" fill="rgb(139,139,139)"/>
<rect x="199.23" y="162.76" width="12.15" height="4.27" fill="rgb(131,131,131)"/>
<rect x="211.07" y="162.76" width="4.25" height="4.27" fill="rgb(143,143,143)"/>
<rect x="215.02" y="162.76" width="16.09" height="4.27" fill="rgb(147,147,147)"/>
<rect x="230.82" y="162.76" width="4.25" height="4.27" fill="rgb(143,143,143)"/>
<rect x="234.76" y="162.76" width="12.15" height="4.27" fill="rgb(147,147,147)"/>
<rect x="246.61" y="162.76" width="4.25" height="4.27" fill="rgb(139,139,139)"/>
<rect x="250.56" y="162.76" width="8.20" height="4.27" fill="rgb(131,131,131)"/>
<rect x="72.88" y="166.74" width="4.25" height="4.27" fill="rgb(151,151,151)"/>
<rect x="76.83" y="166.74" width="4.25" height="4.27" fill="rgb(171,171,171)"/>
<rect x="80.78" y="166.74" width="4.25" height="4.27" fill="rgb(179,179,179)"/>
<rect x="84.72" y="166.74" width="4.25" height="4.27" fill="rgb(155,155,155)"/>
<rect x="92.62" y="166.74" width="4.25" height="4.27" fill="rgb(143,143,143)"/>
<rect x="96.57" y="166.74" width="4.25" height="4.27" fill="rgb(187,187,187)"/>
<rect x="100.52" y="166.74" width="12.15" height="4.27" fill="rgb(207,207,207)"/>
<rect x="112.36" y="166.74" width="4.25" height="4.27" fill="rgb(203,203,203)"/>
<rect x="116.31" y="166.74" width="4.25" height="4.27" fill="rgb(187,187,187)"/>
<rect x="120.26" y="166.74" width="4.25" height="4.27" fill="rgb(163,163,163)"/>
<rect x="124.21" y="166.74" width="31.89" height="4.27" fill="rgb(159,159,159)"/>
<rect x="155.80" y="166.74" width="4.25" height="4.27" fill="rgb(167,167,167)"/>
<rect x="159.74" y="166.74" width="4.25" height="4.27" fill="rgb(179,179,179)"/>
<rect x="163.69" y="166.74" width="12.15" height="4.27" fill="rgb(183,183,183)"/>
<rect x="175.54" y="166.74" width="4.25" height="4.27" fill="rgb(171,171,171)"/>
<rect x="179.49" y="166.74" width="4.25" height="4.27" fill="rgb(155,155,155)"/>
<rect x="183.43" y="166.74" width="4.25" height="4.27" fill="rgb(147,147,147)"/>
<rect x="187.38" y="166.74" width="4.25" height="4.27" fill="rgb(139,139,139)"/>
<rect x="199.23" y="166.74" width="12.15" height="4.27" fill="rgb(131,131,131)"/>
<rect x="211.07" y="166.74" width="4.25" height="4.27" fill="rgb(143,143,143)"/>
<rect x="215.02" y="166.74" width="31.89" height="4.27" fill="rgb(147,147,147)"/>
<rect x="250.56" y="166.74" width="8.20" height="4.27" fill="rgb(131,131,131)"/>
<rect x="72.88" y="170.71" width="4.25" height="4.27" fill="rgb(143,143,143)"/>
<rect x="76.83" y="170.71" width="4.25" height="4.27" fill="rgb(167,167,167)"/>
<rect x="80.78" y="170.71" width="4.25" height="4.27" fill="rgb(183,183,183)"/>
<rect x="84.72" y="170.71" width="4.25" height="4.27" fill="rgb(163,163,163)"/>
<rect x="88.67" y="170.71" width="8.20" height="4.27" fill="rgb(139,139,139)"/>
<rect x="96.57" y="170.71" width="4.25" height="4.27" fill="rgb(167,167,167)"/>
<rect x="100.52" y="170.71" width="4.25" height="4.27" fill="rgb(199,199,199)"/>
<rect x="104.47" y="170.71" width="4.25" height="4.27" fill="rgb(195,195,195)"/>
<rect x="108.41" y="170.71" width="4.25" height="4.27" fill="rgb(191,191,191)"/>
<rect x="112.36" y="170.71" width="8.20" height="4.27" fill="rgb(203,203,203)"/>
<rect x="120.26" y="170.71" width="4.25" height="4.27" fill="rgb(183,183,183)"/>
<rect x="124.21" y="170.71" width="4.25" height="4.27" fill="rgb(163,163,163)"/>
<rect x="128.16" y="170.71" width="20.04" height="4.27" fill="rgb(159,159,159)"/>
<rect x="147.90" y="170.71" width="4.25" height="4.27" fill="rgb(163,163,163)"/>
<rect x="151.85" y="170.71" width="12.15" height="4.27" fill="rgb(167,167,167)"/>
<rect x="163.69" y="170.71" width="4.25" height="4.27" fill="rgb(175,175,175)"/>
<rect x="167.64" y="170.71" width="4.25" height="4.27" fill="rgb(199,199,199)"/>
<rect x="171.59" y="170.71" width="8.20" height="4.27" fill="rgb(211,211,211)"/>
<rect x="179.49" y="170.71" width="4.25" height="4.27" fill="rgb(203,203,203)"/>
<rect x="183.43" y="170.71" width="4.25" height="4.27" fill="rgb(187,187,187)"/>
<rect x="187.38" y="170.71" width="4.25" height="4.27" fill="rgb(171,171,171)"/>
<rect x="191.33" y="170.71" width="4.25" height="4.27" fill="rgb(155,155,155)"/>
<rect x="195.28" y="170.71" width="4.25" height="4.27" fill="rgb(139,139,139)"/>
<rect x="199.23" y="170.71" width="12.15" height="4.27" fill="rgb(131,131,131)"/>
<rect x="211.07" y="170.71" width="4.25" height="4.27" fill="rgb(139,139,139)"/>
<rect x="215.02" y="170.71" width="31.89" height="4.27" fill="rgb(147,147,147)"/>
<rect x="250.56" y="170.71" width="4.25" height="4.27" fill="rgb(131,131,131)"/>
<rect x="72.88" y="174.68" width="4.25" height="4.27" fill="rgb(139,139,139)"/>
<rect x="76.83" y="174.68" width="4.25" height="4.27" fill="rgb(159,159,159)"/>
<rect x="80.78" y="174.68" width="4.25" height="4.27" fill="rgb(179,179,179)"/>
<rect x="84.72" y="174.68" width="4.25" height="4.27" fill="rgb(175,175,175)"/>
<rect x="88.67" y="174.68" width="4.25" height="4.27" fill="rgb(147,147,147)"/>
<rect x="96.57" y="174.68" width="4.25" height="4.27" fill="rgb(143,143,143)"/>
<rect x="100.52" y="174.68" width="4.25" height="4.27" fill="rgb(167,167,167)"/>
<rect x="104.47" y="174.68" width="4.25" height="4.27" fill="rgb(163,163,163)"/>
<rect x="108.41" y="174.68" width="4.25" height="4.27" fill="rgb(155,155,155)"/>
<rect x="112.36" y="174.68" width="4.25" height="4.27" fill="rgb(183,183,183)"/>
<rect x="116.31" y="174.68" width="4.25" height="4.27" fill="rgb(203,203,203)"/>
<rect x="120.26" y="174.68" width="4.25" height="4.27" fill="rgb(207,207,207)"/>
<rect x="124.21" y="174.68" width="4.25" height="4.27" fill="rgb(195,195,195)"/>
<rect x="128.16" y="174.68" width="4.25" height="4.27" fill="rgb(179,179,179)"/>
<rect x="132.10" y="174.68" width="4.25" height="4.27" fill="rgb(171,171,171)"/>
<rect x="136.05" y="174.68" width="4.25" height="4.27" fill="rgb(167,167,167)"/>
<rect x="140.00" y="174.68" width="4.25" height="4.27" fill="rgb(171,171,171)"/>
<rect x="143.95" y="174.68" width="4.25" height="4.27" fill="rgb(183,183,183)"/>
<rect x="147.90" y="174.68" width="4.25" height="4.27" fill="rgb(191,191,191)"/>
<rect x="151.85" y="174.68" width="4.25" height="4.27" fill="rgb(183,183,183)"/>
<rect x="155.80" y="174.68" width="4.25" height="4.27" fill="rgb(171,171,171)"/>
<rect x="159.74" y="174.68" width="4.25" height="4.27" fill="rgb(167,167,167)"/>
<rect x="163.69" y="174.68" width="4.25" height="4.27" fill="rgb(187,187,187)"/>
<rect x="167.64" y="174.68" width="4.25" height="4.27" fill="rgb(211,211,211)"/>
<rect x="171.59" y="174.68" width="16.09" height="4.27" fill="rgb(215,215,215)"/>
<rect x="187.38" y="174.68" width="4.25" height="4.27" fill="rgb(207,207,207)"/>
<rect x="191.33" y="174.68" width="4.25" height="4.27" fill="rgb(179,179,179)"/>
<rect x="195.28" y="174.68" width="4.25" height="4.27" fill="rgb(143,143,143)"/>
<rect x="203.18" y="174.68" width="8.20" height="4.27" fill="rgb(131,131,131)"/>
<rect x="215.02" y="174.68" width="4.25" height="4.27" fill="rgb(143,143,143)"/>
<rect x="218.97" y="174.68" width="23.99" height="4.27" fill="rgb(147,147,147)"/>
<rect x="242.66" y="174.68" width="4.25" height="4.27" fill="rgb(139,139,139)"/>
<rect x="246.61" y="174.68" width="8.20" height="4.27" fill="rgb(131,131,131)"/>
<rect x="76.83" y="178.65" width="4.25" height="4.27" fill="rgb(151,151,151)"/>
<rect x="80.78" y="178.65" width="4.25" height="4.27" fill="rgb(171,171,171)"/>
<rect x="84.72" y="178.65" width="4.25" height="4.27" fill="rgb(183,183,183)"/>
<rect x="88.67" y="178.65" width="4.25" height="4.27" fill="rgb(163,163,163)"/>
<rect x="92.62" y="178.65" width="4.25" height="4.27" fill="rgb(139,139,139)"/>
<rect x="100.52" y="178.65" width="8.20" height="4.27" fill="rgb(139,139,139)"/>
<rect x="112.36" y="178.65" width="4.25" height="4.27" fill="rgb(151,151,151)"/>
<rect x="116.31" y="178.65" width="4.25" height="4.27" fill="rgb(183,183,183)"/>
<rect x="120.26" y="178.65" width="4.25" height="4.27" fill="rgb(203,203,203)"/>
<rect x="124.21" y="178.65" width="12.15" height="4.27" fill="rgb(207,207,207)"/>
<rect x="136.05" y="178.65" width="4.25" height="4.27" fill="rgb(203,203,203)"/>
<rect x="140.00" y="178.65" width="4.25" height="4.27" fill="rgb(207,207,207)"/>
<rect x="143.95" y="178.65" width="4.25" height="4.27" fill="rgb(211,211,211)"/>
<rect x="147.90" y="178.65" width="4.25" height="4.27" fill="rgb(207,207,207)"/>
<rect x="151.85" y="178.65" width="4.25" height="4.27" fill="rgb(195,195,195)"/>
<rect x="155.80" y="178.65" width="4.25" height="4.27" fill="rgb(175,175,175)"/>
<rect x="159.74" y="178.65" width="4.25" height="4.27" fill="rgb(183,183,183)"/>
<rect x="163.69" y="178.65" width="4.25" height="4.27" fill="rgb(207,207,207)"/>
<rect x="167.64" y="178.65" width="20.04" height="4.27" fill="rgb(215,215,215)"/>
<rect x="187.38" y="178.65" width="4.25" height="4.27" fill="rgb(207,207,207)"/>
<rect x="191.33" y="178.65" width="4.25" height="4.27" fill="rgb(175,175,175)"/>
<rect x="195.28" y="178.65" width="4.25" height="4.27" fill="rgb(139,139,139)"/>
<rect x="203.18" y="178.65" width="12.15" height="4.27" fill="rgb(131,131,131)"/>
<rect x="222.92" y="178.65" width="16.09" height="4.27" fill="rgb(139,139,139)"/>
<rect x="242.66" y="178.65" width="8.20" height="4.27" fill="rgb(131,131,131)"/>
<rect x="76.83" y="182.62" width="4.25" height="4.27" fill="rgb(143,143,143)"/>
<rect x="80.78" y="182.62" width="4.25" height="4.27" fill="rgb(159,159,159)"/>
<rect x="84.72" y="182.62" width="4.25" height="4.27" fill="rgb(179,179,179)"/>
<rect x="88.67" y="182.62" width="4.25" height="4.27" fill="rgb(175,175,175)"/>
<rect x="92.62" y="182.62" width="4.25" height="4.27" fill="rgb(151,151,151)"/>
<rect x="116.31" y="182.62" width="4.25" height="4.27" fill="rgb(147,147,147)"/>
<rect x="120.26" y="182.62" width="4.25" height="4.27" fill="rgb(171,171,171)"/>
<rect x="124.21" y="182.62" width="4.25" height="4.27" fill="rgb(191,191,191)"/>
<rect x="128.16" y="182.62" width="4.25" height="4.27" fill="rgb(207,207,207)"/>
<rect x="132.10" y="182.62" width="20.04" height="4.27" fill="rgb(211,211,211)"/>
<rect x="151.85" y="182.62" width="4.25" height="4.27" fill="rgb(203,203,203)"/>
<rect x="155.80" y="182.62" width="4.25" height="4.27" fill="rgb(195,195,195)"/>
<rect x="159.74" y="182.62" width="4.25" height="4.27" fill="rgb(207,207,207)"/>
<rect x="163.69" y="182.62" width="23.99" height="4.27" fill="rgb(215,215,215)"/>
<rect x="187.38" y="182.62" width="4.25" height="4.27" fill="rgb(195,195,195)"/>
<rect x="191.33" y="182.62" width="4.25" height="4.27" fill="rgb(155,155,155)"/>
<rect x="207.12" y="182.62" width="39.78" height="4.27" fill="rgb(131,131,131)"/>
<rect x="80.78" y="186.59" width="4.25" height="4.27" fill="rgb(147,147,147)"/>
<rect x="84.72" y="186.59" width="4.25" height="4.27" fill="rgb(171,171,171)"/>
<rect x="88.67" y="186.59" width="4.25" height="4.27" fill="rgb(179,179,179)"/>
<rect x="92.62" y="186.59" width="4.25" height="4.27" fill="rgb(159,159,159)"/>
<rect x="96.57" y="186.59" width="4.25" height="4.27" fill="rgb(139,139,139)"/>
<rect x="120.26" y="186.59" width="4.25" height="4.27" fill="rgb(143,143,143)"/>
<rect x="124.21" y="186.59" width="4.25" height="4.27" fill="rgb(167,167,167)"/>
<rect x="128.16" y="186.59" width="4.25" height="4.27" fill="rgb(203,203,203)"/>
<rect x="132.10" y="186.59" width="27.94" height="4.27" fill="rgb(211,211,211)"/>
<rect x="159.74" y="186.59" width="23.99" height="4.27" fill="rgb(215,215,215)"/>
<rect x="183.43" y="186.59" width="4.25" height="4.27" fill="rgb(203,203,203)"/>
<rect x="187.38" y="186.59" width="4.25" height="4.27" fill="rgb(171,171,171)"/>
<rect x="191.33" y="186.59" width="4.25" height="4.27" fill="rgb(139,139,139)"/>
<rect x="218.97" y="186.59" width="16.09" height="4.27" fill="rgb(131,131,131)"/>
<rect x="84.72" y="190.57" width="4.25" height="4.27" fill="rgb(151,151,151)"/>
<rect x="88.67" y="190.57" width="4.25" height="4.27" fill="rgb(159,159,159)"/>
<rect x="92.62" y="190.57" width="4.25" height="4.27" fill="rgb(151,151,151)"/>
<rect x="96.57" y="190.57" width="4.25" height="4.27" fill="rgb(139,139,139)"/>
<rect x="124.21" y="190.57" width="4.25" height="4.27" fill="rgb(159,159,159)"/>
<rect x="128.16" y="190.57" width="4.25" height="4.27" fill="rgb(203,203,203)"/>
<rect x="132.10" y="190.57" width="16.09" height="4.27" fill="rgb(211,211,211)"/>
<rect x="147.90" y="190.57" width="31.89" height="4.27" fill="rgb(215,215,215)"/>
<rect x="179.49" y="190.57" width="4.25" height="4.27" fill="rgb(207,207,207)"/>
<rect x="183.43" y="190.57" width="4.25" height="4.27" fill="rgb(179,179,179)"/>
<rect x="187.38" y="190.57" width="4.25" height="4.27" fill="rgb(147,147,147)"/>
<rect x="76.83" y="194.54" width="8.20" height="4.27" fill="rgb(131,131,131)"/>
<rect x="88.67" y="194.54" width="4.25" height="4.27" fill="rgb(139,139,139)"/>
<rect x="96.57" y="194.54" width="4.25" height="4.27" fill="rgb(131,131,131)"/>
<rect x="124.21" y="194.54" width="4.25" height="4.27" fill="rgb(155,155,155)"/>
<rect x="128.16" y="194.54" width="4.25" height="4.27" fill="rgb(203,203,203)"/>
<rect x="132.10" y="194.54" width="43.73" height="4.27" fill="rgb(215,215,215)"/>
<rect x="175.54" y="194.54" width="4.25" height="4.27" fill="rgb(207,207,207)"/>
<rect x="179.49" y="194.54" width="4.25" height="4.27" fill="rgb(187,187,187)"/>
<rect x="183.43" y="194.54" width="4.25" height="4.27" fill="rgb(151,151,151)"/>
<rect x="72.88" y="198.51" width="12.15" height="4.27" fill="rgb(131,131,131)"/>
<rect x="88.67" y="198.51" width="20.04" height="4.27" fill="rgb(131,131,131)"/>
<rect x="124.21" y="198.51" width="4.25" height="4.27" fill="rgb(159,159,159)"/>
<rect x="128.16" y="198.51" width="4.25" height="4.27" fill="rgb(207,207,207)"/>
<rect x="132.10" y="198.51" width="39.78" height="4.27" fill="rgb(215,215,215)"/>
<rect x="171.59" y="198.51" width="4.25" height="4.27" fill="rgb(207,207,207)"/>
<rect x="175.54" y="198.51" width="4.25" height="4.27" fill="rgb(183,183,183)"/>
<rect x="179.49" y="198.51" width="4.25" height="4.27" fill="rgb(155,155,155)"/>
<rect x="183.43" y="198.51" width="4.25" height="4.27" fill="rgb(139,139,139)"/>
<rect x="68.93" y="202.48" width="12.15" height="4.27" fill="rgb(131,131,131)"/>
<rect x="80.78" y="202.48" width="8.20" height="4.27" fill="rgb(139,139,139)"/>
<rect x="92.62" y="202.48" width="20.04" height="4.27" fill="rgb(131,131,131)"/>
<rect x="120.26" y="202.48" width="4.25" height="4.27" fill="rgb(139,139,139)"/>
<rect x="124.21" y="202.48" width="4.25" height="4.27" fill="rgb(171,171,171)"/>
<rect x="128.16" y="202.48" width="4.25" height="4.27" fill="rgb(211,211,211)"/>
<rect x="132.10" y="202.48" width="31.89" height="4.27" fill="rgb(215,215,215)"/>
<rect x="163.69" y="202.48" width="4.25" height="4.27" fill="rgb(211,211,211)"/>
<rect x="167.64" y="202.48" width="4.25" height="4.27" fill="rgb(203,203,203)"/>
<rect x="171.59" y="202.48" width="4.25" height="4.27" fill="rgb(179,179,179)"/>
<rect x="175.54" y="202.48" width="4.25" height="4.27" fill="rgb(155,155,155)"/>
<rect x="179.49" y="202.48" width="4.25" height="4.27" fill="rgb(139,139,139)"/>
<rect x="64.98" y="206.45" width="12.15" height="4.27" fill="rgb(131,131,131)"/>
<rect x="80.78" y="206.45" width="8.20" height="4.27" fill="rgb(143,143,143)"/>
<rect x="88.67" y="206.45" width="4.25" height="4.27" fill="rgb(139,139,139)"/>
<rect x="92.62" y="206.45" width="23.99" height="4.27" fill="rgb(131,131,131)"/>
<rect x="120.26" y="206.45" width="4.25" height="4.27" fill="rgb(143,143,143)"/>
<rect x="124.21" y="206.45" width="4.25" height="4.27" fill="rgb(183,183,183)"/>
<rect x="128.16" y="206.45" width="4.25" height="4.27" fill="rgb(211,211,211)"/>
<rect x="132.10" y="206.45" width="23.99" height="4.27" fill="rgb(215,215,215)"/>
<rect x="155.80" y="206.45" width="4.25" height="4.27" fill="rgb(211,211,211)"/>
<rect x="159.74" y="206.45" width="4.25" height="4.27" fill="rgb(207,207,207)"/>
<rect x="163.69" y="206.45" width="4.25" height="4.27" fill="rgb(191,191,191)"/>
<rect x="167.64" y="206.45" width="4.25" height="4.27" fill="rgb(167,167,167)"/>
<rect x="171.59" y="206.45" width="4.25" height="4.27" fill="rgb(143,143,143)"/>
<rect x="61.03" y="210.42" width="16.09" height="4.27" fill="rgb(131,131,131)"/>
<rect x="76.83" y="210.42" width="4.25" height="4.27" fill="rgb(139,139,139)"/>
<rect x="80.78" y="210.42" width="12.15" height="4.27" fill="rgb(143,143,143)"/>
<rect x="96.57" y="210.42" width="20.04" height="4.27" fill="rgb(131,131,131)"/>
<rect x="120.26" y="210.42" width="4.25" height="4.27" fill="rgb(147,147,147)"/>
<rect x="124.21" y="210.42" width="4.25" height="4.27" fill="rgb(187,187,187)"/>
<rect x="128.16" y="210.42" width="20.04" height="4.27" fill="rgb(211,211,211)"/>
<rect x="147.90" y="210.42" width="4.25" height="4.27" fill="rgb(207,207,207)"/>
<rect x="151.85" y="210.42" width="4.25" height="4.27" fill="rgb(199,199,199)"/>
<rect x="155.80" y="210.42" width="4.25" height="4.27" fill="rgb(187,187,187)"/>
<rect x="159.74" y="210.42" width="4.25" height="4.27" fill="rgb(167,167,167)"/>
<rect x="163.69" y="210.42" width="4.25" height="4.27" fill="rgb(151,151,151)"/>
<rect x="167.64" y="210.42" width="4.25" height="4.27" fill="rgb(139,139,139)"/>
<rect x="61.03" y="214.40" width="16.09" height="4.27" fill="rgb(131,131,131)"/>
<rect x="76.83" y="214.40" width="4.25" height="4.27" fill="rgb(139,139,139)"/>
<rect x="80.78" y="214.40" width="12.15" height="4.27" fill="rgb(143,143,143)"/>
<rect x="96.57" y="214.40" width="23.99" height="4.27" fill="rgb(131,131,131)"/>
<rect x="120.26" y="214.40" width="4.25" height="4.27" fill="rgb(139,139,139)"/>
<rect x="124.21" y="214.40" width="4.25" height="4.27" fill="rgb(163,163,163)"/>
<rect x="128.16" y="214.40" width="4.25" height="4.27" fill="rgb(175,175,175)"/>
<rect x="132.10" y="214.40" width="12.15" height="4.27" fill="rgb(179,179,179)"/>
<rect x="143.95" y="214.40" width="4.25" height="4.27" fill="rgb(175,175,175)"/>
<rect x="147.90" y="214.40" width="4.25" height="4.27" fill="rgb(167,167,167)"/>
<rect x="151.85" y="214.40" width="4.25" height="4.27" fill="rgb(155,155,155)"/>
<rect x="155.80" y="214.40" width="4.25" height="4.27" fill="rgb(147,147,147)"/>
<rect x="159.74" y="214.40" width="4.25" height="4.27" fill="rgb(139,139,139)"/>
<rect x="57.08" y="218.37" width="12.15" height="4.27" fill="rgb(131,131,131)"/>
<rect x="72.88" y="218.37" width="4.25" height="4.27" fill="rgb(139,139,139)"/>
<rect x="76.83" y="218.37" width="27.94" height="4.27" fill="rgb(143,143,143)"/>
<rect x="104.47" y="218.37" width="4.25" height="4.27" fill="rgb(139,139,139)"/>
<rect x="108.41" y="218.37" width="12.15" height="4.27" fill="rgb(131,131,131)"/>
<rect x="124.21" y="218.37" width="8.20" height="4.27" fill="rgb(139,139,139)"/>
<rect x="132.10" y="218.37" width="8.20" height="4.27" fill="rgb(143,143,143)"/>
<rect x="140.00" y="218.37" width="12.15" height="4.27" fill="rgb(139,139,139)"/>
<rect x="57.08" y="222.34" width="8.20" height="4.27" fill="rgb(131,131,131)"/>
<rect x="68.93" y="222.34" width="4.25" height="4.27" fill="rgb(143,143,143)"/>
<rect x="72.88" y="222.34" width="35.84" height="4.27" fill="rgb(147,147,147)"/>
<rect x="108.41" y="222.34" width="4.25" height="4.27" fill="rgb(139,139,139)"/>
<rect x="112.36" y="222.34" width="12.15" height="4.27" fill="rgb(131,131,131)"/>
<rect x="57.08" y="226.31" width="8.20" height="4.27" fill="rgb(131,131,131)"/>
<rect x="64.98" y="226.31" width="4.25" height="4.27" fill="rgb(139,139,139)"/>
<rect x="68.93" y="226.31" width="43.73" height="4.27" fill="rgb(147,147,147)"/>
<rect x="112.36" y="226.31" width="4.25" height="4.27" fill="rgb(139,139,139)"/>
<rect x="116.31" y="226.31" width="8.20" height="4.27" fill="rgb(131,131,131)"/>
<rect x="57.08" y="230.28" width="4.25" height="4.27" fill="rgb(131,131,131)"/>
<rect x="64.98" y="230.28" width="4.25" height="4.27" fill="rgb(143,143,143)"/>
<rect x="68.93" y="230.28" width="12.15" height="4.27" fill="rgb(147,147,147)"/>
<rect x="80.78" y="230.28" width="4.25" height="4.27" fill="rgb(143,143,143)"/>
<rect x="84.72" y="230.28" width="8.20" height="4.27" fill="rgb(139,139,139)"/>
<rect x="92.62" y="230.28" width="4.25" height="4.27" fill="rgb(143,143,143)"/>
<rect x="96.57" y="230.28" width="16.09" height="4.27" fill="rgb(147,147,147)"/>
<rect x="112.36" y="230.28" width="4.25" height="4.27" fill="rgb(143,143,143)"/>
<rect x="116.31" y="230.28" width="8.20" height="4.27" fill="rgb(131,131,131)"/>
<rect x="57.08" y="234.25" width="4.25" height="4.27" fill="rgb(131,131,131)"/>
<rect x="64.98" y="234.25" width="4.25" height="4.27" fill="rgb(143,143,143)"/>
<rect x="68.93" y="234.25" width="12.15" height="4.27" fill="rgb(147,147,147)"/>
<rect x="80.78" y="234.25" width="4.25" height="4.27" fill="rgb(139,139,139)"/>
<rect x="92.62" y="234.25" width="4.25" height="4.27" fill="rgb(139,139,139)"/>
<rect x="96.57" y="234.25" width="16.09" height="4.27" fill="rgb(147,147,147)"/>
<rect x="112.36" y="234.25" width="4.25" height="4.27" fill="rgb(143,143,143)"/>
<rect x="116.31" y="234.25" width="8.20" height="4.27" fill="rgb(131,131,131)"/>
<rect x="57.08" y="238.23" width="4.25" height="4.27" fill="rgb(131,131,131)"/>
<rect x="64.98" y="238.23" width="4.25" height="4.27" fill="rgb(143,143,143)"/>
<rect x="68.93" y="238.23" width="12.15" height="4.27" fill="rgb(147,147,147)"/>
<rect x="80.78" y="238.23" width="4.25" height="4.27" fill="rgb(143,143,143)"/>
<rect x="84.72" y="238.23" width="8.20" height="4.27" fill="rgb(139,139,139)"/>
<rect x="92.62" y="238.23" width="4.25" height="4.27" fill="rgb(143,143,143)"/>
<rect x="96.57" y="238.23" width="16.09" height="4.27" fill="rgb(147,147,147)"/>
<rect x="112.36" y="238.23" width="4.25" height="4.27" fill="rgb(143,143,143)"/>
<rect x="116.31" y="238.23" width="4.25" height="4.27" fill="rgb(131,131,131)"/>
<rect x="64.98" y="242.20" width="4.25" height="4.27" fill="rgb(143,143,143)"/>
<rect x="68.93" y="242.20" width="43.73" height="4.27" fill="rgb(147,147,147)"/>
<rect x="112.36" y="242.20" width="4.25" height="4.27" fill="rgb(139,139,139)"/>
<rect x="116.31" y="242.20" width="4.25" height="4.27" fill="rgb(131,131,131)"/>
<rect x="61.03" y="246.17" width="4.25" height="4.27" fill="rgb(131,131,131)"/>
<rect x="64.98" y="246.17" width="4.25" height="4.27" fill="rgb(139,139,139)"/>
<rect x="68.93" y="246.17" width="39.78" height="4.27" fill="rgb(147,147,147)"/>
<rect x="108.41" y="246.17" width="4.25" height="4.27" fill="rgb(143,143,143)"/>
<rect x="116.31" y="246.17" width="4.25" height="4.27" fill="rgb(131,131,131)"/>
<rect x="68.93" y="250.14" width="4.25" height="4.27" fill="rgb(139,139,139)"/>
<rect x="72.88" y="250.14" width="4.25" height="4.27" fill="rgb(143,143,143)"/>
<rect x="76.83" y="250.14" width="27.94" height="4.27" fill="rgb(147,147,147)"/>
<rect x="104.47" y="250.14" width="4.25" height="4.27" fill="rgb(143,143,143)"/>
<rect x="112.36" y="250.14" width="4.25" height="4.27" fill="rgb(131,131,131)"/>
<rect x="64.98" y="254.11" width="8.20" height="4.27" fill="rgb(131,131,131)"/>
<rect x="80.78" y="254.11" width="20.04" height="4.27" fill="rgb(139,139,139)"/>
<rect x="108.41" y="254.11" width="4.25" height="4.27" fill="rgb(131,131,131)"/>
<rect x="68.93" y="258.08" width="39.78" height="4.27" fill="rgb(131,131,131)"/>
<rect x="76.83" y="262.06" width="27.94" height="4.27" fill="rgb(131,131,131)"/>
</g>
<path d="M21.55 31.7V270.0M25.50 31.7V270.0M29.45 31.7V270.0M33.39 31.7V270.0M37.34 31.7V270.0M41.29 31.7V270.0M45.24 31.7V270.0M49.19 31.7V270.0M53.14 31.7V270.0M57.08 31.7V270.0M61.03 31.7V270.0M64.98 31.7V270.0M68.93 31.7V270.0M72.88 31.7V270.0M76.83 31.7V270.0M80.78 31.7V270.0M84.72 31.7V270.0M88.67 31.7V270.0M92.62 31.7V270.0M96.57 31.7V270.0M100.52 31.7V270.0M104.47 31.7V270.0M108.41 31.7V270.0M112.36 31.7V270.0M116.31 31.7V270.0M120.26 31.7V270.0M124.21 31.7V270.0M128.16 31.7V270.0M132.10 31.7V270.0M136.05 31.7V270.0M140.00 31.7V270.0M143.95 31.7V270.0M147.90 31.7V270.0M151.85 31.7V270.0M155.80 31.7V270.0M159.74 31.7V270.0M163.69 31.7V270.0M167.64 31.7V270.0M171.59 31.7V270.0M175.54 31.7V270.0M179.49 31.7V270.0M183.43 31.7V270.0M187.38 31.7V270.0M191.33 31.7V270.0M195.28 31.7V270.0M199.23 31.7V270.0M203.18 31.7V270.0M207.12 31.7V270.0M211.07 31.7V270.0M215.02 31.7V270.0M218.97 31.7V270.0M222.92 31.7V270.0M226.87 31.7V270.0M230.82 31.7V270.0M234.76 31.7V270.0M238.71 31.7V270.0M242.66 31.7V270.0M246.61 31.7V270.0M250.56 31.7V270.0M254.51 31.7V270.0M258.45 31.7V270.0M262.40 31.7V270.0M266.35 31.7V270.0M17.6 35.67H270.3M17.6 39.64H270.3M17.6 43.61H270.3M17.6 47.59H270.3M17.6 51.56H270.3M17.6 55.53H270.3M17.6 59.50H270.3M17.6 63.47H270.3M17.6 67.44H270.3M17.6 71.42H270.3M17.6 75.39H270.3M17.6 79.36H270.3M17.6 83.33H270.3M17.6 87.30H270.3M17.6 91.28H270.3M17.6 95.25H270.3M17.6 99.22H270.3M17.6 103.19H270.3M17.6 107.16H270.3M17.6 111.13H270.3M17.6 115.11H270.3M17.6 119.08H270.3M17.6 123.05H270.3M17.6 127.02H270.3M17.6 130.99H270.3M17.6 134.96H270.3M17.6 138.94H270.3M17.6 142.91H270.3M17.6 146.88H270.3M17.6 150.85H270.3M17.6 154.82H270.3M17.6 158.79H270.3M17.6 162.76H270.3M17.6 166.74H270.3M17.6 170.71H270.3M17.6 174.68H270.3M17.6 178.65H270.3M17.6 182.62H270.3M17.6 186.59H270.3M17.6 190.57H270.3M17.6 194.54H270.3M17.6 198.51H270.3M17.6 202.48H270.3M17.6 206.45H270.3M17.6 210.42H270.3M17.6 214.40H270.3M17.6 218.37H270.3M17.6 222.34H270.3M17.6 226.31H270.3M17.6 230.28H270.3M17.6 234.25H270.3M17.6 238.23H270.3M17.6 242.20H270.3M17.6 246.17H270.3M17.6 250.14H270.3M17.6 254.11H270.3M17.6 258.08H270.3M17.6 262.06H270.3M17.6 266.03H270.3" stroke="#fff" stroke-opacity="0.05" stroke-width="1" fill="none"/>
</g>
<g fill="#0c0c0c" stroke="#0c0c0c" stroke-width="0.3" font-weight="bold" font-size="16.4px">
<text x="132.9" y="78.7" textLength="95.8" lengthAdjust="spacingAndGlyphs">ELECTRODE</text>
<text x="160.2" y="236" textLength="64.4" lengthAdjust="spacingAndGlyphs">HEATER</text>
</g>
<line x1="159.3" y1="83.4" x2="136.9" y2="144.8" stroke="#111" stroke-width="1.0"/><polygon points="134.2,152.3 133.7,143.6 140.1,145.9" fill="#111"/>
<line x1="179.3" y1="216.5" x2="164.6" y2="200.0" stroke="#111" stroke-width="1.0"/><polygon points="159.3,194.0 167.2,197.7 162.1,202.2" fill="#111"/>
<rect x="274" y="30.4" width="20" height="239" fill="#000"/>
<rect x="277.9" y="34.8" width="13.5" height="232.4" fill="url(#gbar)"/>
<path d="M277.1 267V33.2H291.6" fill="none" stroke="#fff" stroke-opacity="0.4" stroke-width="0.6"/>
<g font-size="15.8px" fill="#111">
<text x="269.4" y="21" textLength="29.2" lengthAdjust="spacingAndGlyphs" font-size="17.6px">[°C]</text>
<text x="302.5" y="44.8" textLength="28.5" lengthAdjust="spacingAndGlyphs">86.2</text>
<text x="302.5" y="82.3" textLength="28.5" lengthAdjust="spacingAndGlyphs">71.2</text>
<text x="302.5" y="119.9" textLength="28.5" lengthAdjust="spacingAndGlyphs">56.2</text>
<text x="302.5" y="157.4" textLength="28.5" lengthAdjust="spacingAndGlyphs">41.2</text>
<text x="302.5" y="195.0" textLength="28.5" lengthAdjust="spacingAndGlyphs">26.2</text>
<text x="302.5" y="232.6" textLength="28.5" lengthAdjust="spacingAndGlyphs">11.2</text>
<text x="304.0" y="270.1" textLength="23.8" lengthAdjust="spacingAndGlyphs">-3.8</text>
</g>
<path d="M294.8 39.3h1.2M294.8 58.1h1.2M294.8 76.8h1.2M294.8 95.6h1.2M294.8 114.4h1.2M294.8 133.2h1.2M294.8 151.9h1.2M294.8 170.7h1.2M294.8 189.5h1.2M294.8 208.3h1.2M294.8 227.1h1.2M294.8 245.8h1.2M294.8 264.6h1.2" stroke="#555" stroke-width="0.8"/>
<clipPath id="cr"><rect x="342.0" y="82.0" width="171.00" height="192.20"/></clipPath>
<g clip-path="url(#cr)"><g filter="url(#soft)" shape-rendering="crispEdges">
<rect x="339.0" y="79.0" width="177.00" height="198.20" fill="rgb(137,137,137)"/>
<rect x="342.00" y="82.00" width="4.10" height="4.48" fill="rgb(133,133,133)"/>
<rect x="345.80" y="82.00" width="45.90" height="4.48" fill="rgb(129,129,129)"/>
<rect x="391.40" y="82.00" width="7.90" height="4.48" fill="rgb(133,133,133)"/>
<rect x="342.00" y="86.18" width="53.50" height="4.48" fill="rgb(129,129,129)"/>
<rect x="395.20" y="86.18" width="7.90" height="4.48" fill="rgb(133,133,133)"/>
<rect x="342.00" y="90.36" width="57.30" height="4.48" fill="rgb(129,129,129)"/>
<rect x="399.00" y="90.36" width="4.10" height="4.48" fill="rgb(133,133,133)"/>
<rect x="342.00" y="94.53" width="19.30" height="4.48" fill="rgb(129,129,129)"/>
<rect x="361.00" y="94.53" width="15.50" height="4.48" fill="rgb(133,133,133)"/>
<rect x="376.20" y="94.53" width="23.10" height="4.48" fill="rgb(129,129,129)"/>
<rect x="399.00" y="94.53" width="7.90" height="4.48" fill="rgb(133,133,133)"/>
<rect x="342.00" y="98.71" width="15.50" height="4.48" fill="rgb(129,129,129)"/>
<rect x="357.20" y="98.71" width="4.10" height="4.48" fill="rgb(133,133,133)"/>
<rect x="364.80" y="98.71" width="7.90" height="4.48" fill="rgb(141,141,141)"/>
<rect x="376.20" y="98.71" width="4.10" height="4.48" fill="rgb(133,133,133)"/>
<rect x="380.00" y="98.71" width="23.10" height="4.48" fill="rgb(129,129,129)"/>
<rect x="402.80" y="98.71" width="4.10" height="4.48" fill="rgb(133,133,133)"/>
<rect x="342.00" y="102.89" width="11.70" height="4.48" fill="rgb(129,129,129)"/>
<rect x="353.40" y="102.89" width="4.10" height="4.48" fill="rgb(133,133,133)"/>
<rect x="357.20" y="102.89" width="4.10" height="4.48" fill="rgb(141,141,141)"/>
<rect x="361.00" y="102.89" width="11.70" height="4.48" fill="rgb(145,145,145)"/>
<rect x="372.40" y="102.89" width="4.10" height="4.48" fill="rgb(141,141,141)"/>
<rect x="380.00" y="102.89" width="4.10" height="4.48" fill="rgb(133,133,133)"/>
<rect x="383.80" y="102.89" width="19.30" height="4.48" fill="rgb(129,129,129)"/>
<rect x="402.80" y="102.89" width="4.10" height="4.48" fill="rgb(133,133,133)"/>
<rect x="342.00" y="107.07" width="11.70" height="4.48" fill="rgb(129,129,129)"/>
<rect x="357.20" y="107.07" width="4.10" height="4.48" fill="rgb(141,141,141)"/>
<rect x="361.00" y="107.07" width="15.50" height="4.48" fill="rgb(145,145,145)"/>
<rect x="380.00" y="107.07" width="4.10" height="4.48" fill="rgb(133,133,133)"/>
<rect x="383.80" y="107.07" width="19.30" height="4.48" fill="rgb(129,129,129)"/>
<rect x="402.80" y="107.07" width="4.10" height="4.48" fill="rgb(133,133,133)"/>
<rect x="342.00" y="111.25" width="11.70" height="4.48" fill="rgb(129,129,129)"/>
<rect x="357.20" y="111.25" width="4.10" height="4.48" fill="rgb(141,141,141)"/>
<rect x="361.00" y="111.25" width="15.50" height="4.48" fill="rgb(145,145,145)"/>
<rect x="380.00" y="111.25" width="4.10" height="4.48" fill="rgb(133,133,133)"/>
<rect x="383.80" y="111.25" width="19.30" height="4.48" fill="rgb(129,129,129)"/>
<rect x="402.80" y="111.25" width="4.10" height="4.48" fill="rgb(133,133,133)"/>
<rect x="342.00" y="115.43" width="11.70" height="4.48" fill="rgb(129,129,129)"/>
<rect x="353.40" y="115.43" width="4.10" height="4.48" fill="rgb(133,133,133)"/>
<rect x="357.20" y="115.43" width="4.10" height="4.48" fill="rgb(141,141,141)"/>
<rect x="361.00" y="115.43" width="11.70" height="4.48" fill="rgb(145,145,145)"/>
<rect x="372.40" y="115.43" width="4.10" height="4.48" fill="rgb(141,141,141)"/>
<rect x="380.00" y="115.43" width="4.10" height="4.48" fill="rgb(133,133,133)"/>
<rect x="383.80" y="115.43" width="15.50" height="4.48" fill="rgb(129,129,129)"/>
<rect x="399.00" y="115.43" width="7.90" height="4.48" fill="rgb(133,133,133)"/>
<rect x="342.00" y="119.60" width="15.50" height="4.48" fill="rgb(129,129,129)"/>
<rect x="357.20" y="119.60" width="4.10" height="4.48" fill="rgb(133,133,133)"/>
<rect x="364.80" y="119.60" width="11.70" height="4.48" fill="rgb(141,141,141)"/>
<rect x="380.00" y="119.60" width="4.10" height="4.48" fill="rgb(133,133,133)"/>
<rect x="383.80" y="119.60" width="15.50" height="4.48" fill="rgb(129,129,129)"/>
<rect x="399.00" y="119.60" width="4.10" height="4.48" fill="rgb(133,133,133)"/>
<rect x="406.60" y="119.60" width="4.10" height="4.48" fill="rgb(141,141,141)"/>
<rect x="410.40" y="119.60" width="4.10" height="4.48" fill="rgb(145,145,145)"/>
<rect x="414.20" y="119.60" width="4.10" height="4.48" fill="rgb(149,149,149)"/>
<rect x="418.00" y="119.60" width="15.50" height="4.48" fill="rgb(153,153,153)"/>
<rect x="433.20" y="119.60" width="4.10" height="4.48" fill="rgb(149,149,149)"/>
<rect x="437.00" y="119.60" width="4.10" height="4.48" fill="rgb(145,145,145)"/>
<rect x="440.80" y="119.60" width="4.10" height="4.48" fill="rgb(141,141,141)"/>
<rect x="342.00" y="123.78" width="19.30" height="4.48" fill="rgb(129,129,129)"/>
<rect x="361.00" y="123.78" width="4.10" height="4.48" fill="rgb(133,133,133)"/>
<rect x="368.60" y="123.78" width="7.90" height="4.48" fill="rgb(141,141,141)"/>
<rect x="380.00" y="123.78" width="4.10" height="4.48" fill="rgb(133,133,133)"/>
<rect x="383.80" y="123.78" width="11.70" height="4.48" fill="rgb(129,129,129)"/>
<rect x="395.20" y="123.78" width="4.10" height="4.48" fill="rgb(133,133,133)"/>
<rect x="402.80" y="123.78" width="4.10" height="4.48" fill="rgb(145,145,145)"/>
<rect x="406.60" y="123.78" width="4.10" height="4.48" fill="rgb(157,157,157)"/>
<rect x="410.40" y="123.78" width="4.10" height="4.48" fill="rgb(169,169,169)"/>
<rect x="414.20" y="123.78" width="23.10" height="4.48" fill="rgb(173,173,173)"/>
<rect x="437.00" y="123.78" width="4.10" height="4.48" fill="rgb(169,169,169)"/>
<rect x="440.80" y="123.78" width="4.10" height="4.48" fill="rgb(165,165,165)"/>
<rect x="444.60" y="123.78" width="4.10" height="4.48" fill="rgb(157,157,157)"/>
<rect x="448.40" y="123.78" width="4.10" height="4.48" fill="rgb(145,145,145)"/>
<rect x="452.20" y="123.78" width="4.10" height="4.48" fill="rgb(141,141,141)"/>
<rect x="342.00" y="127.96" width="4.10" height="4.48" fill="rgb(133,133,133)"/>
<rect x="345.80" y="127.96" width="19.30" height="4.48" fill="rgb(129,129,129)"/>
<rect x="364.80" y="127.96" width="4.10" height="4.48" fill="rgb(133,133,133)"/>
<rect x="380.00" y="127.96" width="4.10" height="4.48" fill="rgb(133,133,133)"/>
<rect x="383.80" y="127.96" width="7.90" height="4.48" fill="rgb(129,129,129)"/>
<rect x="391.40" y="127.96" width="7.90" height="4.48" fill="rgb(133,133,133)"/>
<rect x="402.80" y="127.96" width="4.10" height="4.48" fill="rgb(149,149,149)"/>
<rect x="406.60" y="127.96" width="4.10" height="4.48" fill="rgb(165,165,165)"/>
<rect x="410.40" y="127.96" width="4.10" height="4.48" fill="rgb(169,169,169)"/>
<rect x="414.20" y="127.96" width="4.10" height="4.48" fill="rgb(165,165,165)"/>
<rect x="418.00" y="127.96" width="11.70" height="4.48" fill="rgb(161,161,161)"/>
<rect x="429.40" y="127.96" width="7.90" height="4.48" fill="rgb(165,165,165)"/>
<rect x="437.00" y="127.96" width="4.10" height="4.48" fill="rgb(169,169,169)"/>
<rect x="440.80" y="127.96" width="7.90" height="4.48" fill="rgb(173,173,173)"/>
<rect x="448.40" y="127.96" width="4.10" height="4.48" fill="rgb(169,169,169)"/>
<rect x="452.20" y="127.96" width="4.10" height="4.48" fill="rgb(157,157,157)"/>
<rect x="456.00" y="127.96" width="4.10" height="4.48" fill="rgb(141,141,141)"/>
<rect x="342.00" y="132.14" width="7.90" height="4.48" fill="rgb(133,133,133)"/>
<rect x="349.60" y="132.14" width="19.30" height="4.48" fill="rgb(129,129,129)"/>
<rect x="368.60" y="132.14" width="11.70" height="4.48" fill="rgb(133,133,133)"/>
<rect x="380.00" y="132.14" width="7.90" height="4.48" fill="rgb(129,129,129)"/>
<rect x="387.60" y="132.14" width="7.90" height="4.48" fill="rgb(133,133,133)"/>
<rect x="402.80" y="132.14" width="4.10" height="4.48" fill="rgb(141,141,141)"/>
<rect x="406.60" y="132.14" width="7.90" height="4.48" fill="rgb(145,145,145)"/>
<rect x="414.20" y="132.14" width="19.30" height="4.48" fill="rgb(141,141,141)"/>
<rect x="433.20" y="132.14" width="4.10" height="4.48" fill="rgb(145,145,145)"/>
<rect x="437.00" y="132.14" width="4.10" height="4.48" fill="rgb(149,149,149)"/>
<rect x="440.80" y="132.14" width="4.10" height="4.48" fill="rgb(157,157,157)"/>
<rect x="444.60" y="132.14" width="4.10" height="4.48" fill="rgb(169,169,169)"/>
<rect x="448.40" y="132.14" width="4.10" height="4.48" fill="rgb(177,177,177)"/>
<rect x="452.20" y="132.14" width="4.10" height="4.48" fill="rgb(173,173,173)"/>
<rect x="456.00" y="132.14" width="4.10" height="4.48" fill="rgb(161,161,161)"/>
<rect x="459.80" y="132.14" width="4.10" height="4.48" fill="rgb(145,145,145)"/>
<rect x="349.60" y="136.32" width="11.70" height="4.48" fill="rgb(133,133,133)"/>
<rect x="361.00" y="136.32" width="15.50" height="4.48" fill="rgb(129,129,129)"/>
<rect x="376.20" y="136.32" width="11.70" height="4.48" fill="rgb(133,133,133)"/>
<rect x="414.20" y="136.32" width="4.10" height="4.48" fill="rgb(145,145,145)"/>
<rect x="418.00" y="136.32" width="4.10" height="4.48" fill="rgb(153,153,153)"/>
<rect x="421.80" y="136.32" width="7.90" height="4.48" fill="rgb(161,161,161)"/>
<rect x="429.40" y="136.32" width="4.10" height="4.48" fill="rgb(157,157,157)"/>
<rect x="433.20" y="136.32" width="4.10" height="4.48" fill="rgb(153,153,153)"/>
<rect x="437.00" y="136.32" width="4.10" height="4.48" fill="rgb(149,149,149)"/>
<rect x="440.80" y="136.32" width="7.90" height="4.48" fill="rgb(145,145,145)"/>
<rect x="448.40" y="136.32" width="4.10" height="4.48" fill="rgb(153,153,153)"/>
<rect x="452.20" y="136.32" width="4.10" height="4.48" fill="rgb(169,169,169)"/>
<rect x="456.00" y="136.32" width="7.90" height="4.48" fill="rgb(181,181,181)"/>
<rect x="463.60" y="136.32" width="4.10" height="4.48" fill="rgb(161,161,161)"/>
<rect x="467.40" y="136.32" width="4.10" height="4.48" fill="rgb(141,141,141)"/>
<rect x="357.20" y="140.50" width="19.30" height="4.48" fill="rgb(133,133,133)"/>
<rect x="414.20" y="140.50" width="4.10" height="4.48" fill="rgb(145,145,145)"/>
<rect x="418.00" y="140.50" width="4.10" height="4.48" fill="rgb(153,153,153)"/>
<rect x="421.80" y="140.50" width="11.70" height="4.48" fill="rgb(161,161,161)"/>
<rect x="433.20" y="140.50" width="7.90" height="4.48" fill="rgb(165,165,165)"/>
<rect x="440.80" y="140.50" width="4.10" height="4.48" fill="rgb(161,161,161)"/>
<rect x="444.60" y="140.50" width="4.10" height="4.48" fill="rgb(149,149,149)"/>
<rect x="448.40" y="140.50" width="4.10" height="4.48" fill="rgb(145,145,145)"/>
<rect x="452.20" y="140.50" width="4.10" height="4.48" fill="rgb(153,153,153)"/>
<rect x="456.00" y="140.50" width="4.10" height="4.48" fill="rgb(173,173,173)"/>
<rect x="459.80" y="140.50" width="4.10" height="4.48" fill="rgb(185,185,185)"/>
<rect x="463.60" y="140.50" width="4.10" height="4.48" fill="rgb(181,181,181)"/>
<rect x="467.40" y="140.50" width="4.10" height="4.48" fill="rgb(161,161,161)"/>
<rect x="471.20" y="140.50" width="4.10" height="4.48" fill="rgb(141,141,141)"/>
<rect x="372.40" y="144.67" width="4.10" height="4.48" fill="rgb(141,141,141)"/>
<rect x="376.20" y="144.67" width="4.10" height="4.48" fill="rgb(153,153,153)"/>
<rect x="380.00" y="144.67" width="4.10" height="4.48" fill="rgb(149,149,149)"/>
<rect x="383.80" y="144.67" width="4.10" height="4.48" fill="rgb(141,141,141)"/>
<rect x="418.00" y="144.67" width="11.70" height="4.48" fill="rgb(141,141,141)"/>
<rect x="429.40" y="144.67" width="4.10" height="4.48" fill="rgb(145,145,145)"/>
<rect x="433.20" y="144.67" width="4.10" height="4.48" fill="rgb(149,149,149)"/>
<rect x="437.00" y="144.67" width="4.10" height="4.48" fill="rgb(153,153,153)"/>
<rect x="440.80" y="144.67" width="4.10" height="4.48" fill="rgb(157,157,157)"/>
<rect x="444.60" y="144.67" width="4.10" height="4.48" fill="rgb(153,153,153)"/>
<rect x="448.40" y="144.67" width="11.70" height="4.48" fill="rgb(149,149,149)"/>
<rect x="459.80" y="144.67" width="4.10" height="4.48" fill="rgb(169,169,169)"/>
<rect x="463.60" y="144.67" width="4.10" height="4.48" fill="rgb(185,185,185)"/>
<rect x="467.40" y="144.67" width="4.10" height="4.48" fill="rgb(181,181,181)"/>
<rect x="471.20" y="144.67" width="4.10" height="4.48" fill="rgb(153,153,153)"/>
<rect x="368.60" y="148.85" width="4.10" height="4.48" fill="rgb(141,141,141)"/>
<rect x="372.40" y="148.85" width="4.10" height="4.48" fill="rgb(157,157,157)"/>
<rect x="376.20" y="148.85" width="4.10" height="4.48" fill="rgb(173,173,173)"/>
<rect x="380.00" y="148.85" width="4.10" height="4.48" fill="rgb(165,165,165)"/>
<rect x="383.80" y="148.85" width="4.10" height="4.48" fill="rgb(145,145,145)"/>
<rect x="410.40" y="148.85" width="4.10" height="4.48" fill="rgb(141,141,141)"/>
<rect x="414.20" y="148.85" width="4.10" height="4.48" fill="rgb(145,145,145)"/>
<rect x="418.00" y="148.85" width="7.90" height="4.48" fill="rgb(153,153,153)"/>
<rect x="425.60" y="148.85" width="4.10" height="4.48" fill="rgb(157,157,157)"/>
<rect x="429.40" y="148.85" width="4.10" height="4.48" fill="rgb(161,161,161)"/>
<rect x="433.20" y="148.85" width="4.10" height="4.48" fill="rgb(157,157,157)"/>
<rect x="437.00" y="148.85" width="4.10" height="4.48" fill="rgb(149,149,149)"/>
<rect x="440.80" y="148.85" width="4.10" height="4.48" fill="rgb(145,145,145)"/>
<rect x="444.60" y="148.85" width="4.10" height="4.48" fill="rgb(141,141,141)"/>
<rect x="448.40" y="148.85" width="4.10" height="4.48" fill="rgb(145,145,145)"/>
<rect x="452.20" y="148.85" width="11.70" height="4.48" fill="rgb(149,149,149)"/>
<rect x="463.60" y="148.85" width="4.10" height="4.48" fill="rgb(173,173,173)"/>
<rect x="467.40" y="148.85" width="4.10" height="4.48" fill="rgb(189,189,189)"/>
<rect x="471.20" y="148.85" width="4.10" height="4.48" fill="rgb(177,177,177)"/>
<rect x="475.00" y="148.85" width="4.10" height="4.48" fill="rgb(145,145,145)"/>
<rect x="494.00" y="148.85" width="19.30" height="4.48" fill="rgb(133,133,133)"/>
<rect x="368.60" y="153.03" width="4.10" height="4.48" fill="rgb(149,149,149)"/>
<rect x="372.40" y="153.03" width="4.10" height="4.48" fill="rgb(177,177,177)"/>
<rect x="376.20" y="153.03" width="4.10" height="4.48" fill="rgb(185,185,185)"/>
<rect x="380.00" y="153.03" width="4.10" height="4.48" fill="rgb(161,161,161)"/>
<rect x="383.80" y="153.03" width="4.10" height="4.48" fill="rgb(141,141,141)"/>
<rect x="406.60" y="153.03" width="4.10" height="4.48" fill="rgb(149,149,149)"/>
<rect x="410.40" y="153.03" width="4.10" height="4.48" fill="rgb(161,161,161)"/>
<rect x="414.20" y="153.03" width="11.70" height="4.48" fill="rgb(169,169,169)"/>
<rect x="425.60" y="153.03" width="4.10" height="4.48" fill="rgb(177,177,177)"/>
<rect x="429.40" y="153.03" width="4.10" height="4.48" fill="rgb(189,189,189)"/>
<rect x="433.20" y="153.03" width="4.10" height="4.48" fill="rgb(197,197,197)"/>
<rect x="437.00" y="153.03" width="4.10" height="4.48" fill="rgb(193,193,193)"/>
<rect x="440.80" y="153.03" width="4.10" height="4.48" fill="rgb(169,169,169)"/>
<rect x="444.60" y="153.03" width="4.10" height="4.48" fill="rgb(145,145,145)"/>
<rect x="448.40" y="153.03" width="4.10" height="4.48" fill="rgb(141,141,141)"/>
<rect x="452.20" y="153.03" width="4.10" height="4.48" fill="rgb(145,145,145)"/>
<rect x="456.00" y="153.03" width="7.90" height="4.48" fill="rgb(149,149,149)"/>
<rect x="463.60" y="153.03" width="4.10" height="4.48" fill="rgb(153,153,153)"/>
<rect x="467.40" y="153.03" width="4.10" height="4.48" fill="rgb(181,181,181)"/>
<rect x="471.20" y="153.03" width="4.10" height="4.48" fill="rgb(185,185,185)"/>
<rect x="475.00" y="153.03" width="4.10" height="4.48" fill="rgb(165,165,165)"/>
<rect x="478.80" y="153.03" width="4.10" height="4.48" fill="rgb(141,141,141)"/>
<rect x="490.20" y="153.03" width="23.10" height="4.48" fill="rgb(133,133,133)"/>
<rect x="364.80" y="157.21" width="4.10" height="4.48" fill="rgb(141,141,141)"/>
<rect x="368.60" y="157.21" width="4.10" height="4.48" fill="rgb(161,161,161)"/>
<rect x="372.40" y="157.21" width="4.10" height="4.48" fill="rgb(185,185,185)"/>
<rect x="376.20" y="157.21" width="4.10" height="4.48" fill="rgb(177,177,177)"/>
<rect x="380.00" y="157.21" width="4.10" height="4.48" fill="rgb(149,149,149)"/>
<rect x="402.80" y="157.21" width="4.10" height="4.48" fill="rgb(141,141,141)"/>
<rect x="406.60" y="157.21" width="4.10" height="4.48" fill="rgb(157,157,157)"/>
<rect x="410.40" y="157.21" width="7.90" height="4.48" fill="rgb(173,173,173)"/>
<rect x="418.00" y="157.21" width="7.90" height="4.48" fill="rgb(169,169,169)"/>
<rect x="425.60" y="157.21" width="4.10" height="4.48" fill="rgb(177,177,177)"/>
<rect x="429.40" y="157.21" width="4.10" height="4.48" fill="rgb(193,193,193)"/>
<rect x="433.20" y="157.21" width="4.10" height="4.48" fill="rgb(205,205,205)"/>
<rect x="437.00" y="157.21" width="4.10" height="4.48" fill="rgb(209,209,209)"/>
<rect x="440.80" y="157.21" width="4.10" height="4.48" fill="rgb(205,205,205)"/>
<rect x="444.60" y="157.21" width="4.10" height="4.48" fill="rgb(181,181,181)"/>
<rect x="448.40" y="157.21" width="4.10" height="4.48" fill="rgb(149,149,149)"/>
<rect x="452.20" y="157.21" width="4.10" height="4.48" fill="rgb(141,141,141)"/>
<rect x="456.00" y="157.21" width="4.10" height="4.48" fill="rgb(145,145,145)"/>
<rect x="459.80" y="157.21" width="7.90" height="4.48" fill="rgb(149,149,149)"/>
<rect x="467.40" y="157.21" width="4.10" height="4.48" fill="rgb(165,165,165)"/>
<rect x="471.20" y="157.21" width="4.10" height="4.48" fill="rgb(185,185,185)"/>
<rect x="475.00" y="157.21" width="4.10" height="4.48" fill="rgb(177,177,177)"/>
<rect x="478.80" y="157.21" width="4.10" height="4.48" fill="rgb(149,149,149)"/>
<rect x="490.20" y="157.21" width="23.10" height="4.48" fill="rgb(133,133,133)"/>
<rect x="364.80" y="161.39" width="4.10" height="4.48" fill="rgb(149,149,149)"/>
<rect x="368.60" y="161.39" width="4.10" height="4.48" fill="rgb(173,173,173)"/>
<rect x="372.40" y="161.39" width="4.10" height="4.48" fill="rgb(185,185,185)"/>
<rect x="376.20" y="161.39" width="4.10" height="4.48" fill="rgb(165,165,165)"/>
<rect x="380.00" y="161.39" width="4.10" height="4.48" fill="rgb(141,141,141)"/>
<rect x="387.60" y="161.39" width="4.10" height="4.48" fill="rgb(141,141,141)"/>
<rect x="402.80" y="161.39" width="4.10" height="4.48" fill="rgb(153,153,153)"/>
<rect x="406.60" y="161.39" width="7.90" height="4.48" fill="rgb(169,169,169)"/>
<rect x="414.20" y="161.39" width="7.90" height="4.48" fill="rgb(165,165,165)"/>
<rect x="421.80" y="161.39" width="4.10" height="4.48" fill="rgb(161,161,161)"/>
<rect x="425.60" y="161.39" width="4.10" height="4.48" fill="rgb(165,165,165)"/>
<rect x="429.40" y="161.39" width="4.10" height="4.48" fill="rgb(173,173,173)"/>
<rect x="433.20" y="161.39" width="4.10" height="4.48" fill="rgb(189,189,189)"/>
<rect x="437.00" y="161.39" width="4.10" height="4.48" fill="rgb(201,201,201)"/>
<rect x="440.80" y="161.39" width="4.10" height="4.48" fill="rgb(209,209,209)"/>
<rect x="444.60" y="161.39" width="4.10" height="4.48" fill="rgb(205,205,205)"/>
<rect x="448.40" y="161.39" width="4.10" height="4.48" fill="rgb(181,181,181)"/>
<rect x="452.20" y="161.39" width="4.10" height="4.48" fill="rgb(145,145,145)"/>
<rect x="456.00" y="161.39" width="4.10" height="4.48" fill="rgb(141,141,141)"/>
<rect x="459.80" y="161.39" width="7.90" height="4.48" fill="rgb(145,145,145)"/>
<rect x="467.40" y="161.39" width="4.10" height="4.48" fill="rgb(149,149,149)"/>
<rect x="471.20" y="161.39" width="4.10" height="4.48" fill="rgb(177,177,177)"/>
<rect x="475.00" y="161.39" width="4.10" height="4.48" fill="rgb(181,181,181)"/>
<rect x="478.80" y="161.39" width="4.10" height="4.48" fill="rgb(157,157,157)"/>
<rect x="482.60" y="161.39" width="4.10" height="4.48" fill="rgb(141,141,141)"/>
<rect x="486.40" y="161.39" width="19.30" height="4.48" fill="rgb(133,133,133)"/>
<rect x="361.00" y="165.57" width="4.10" height="4.48" fill="rgb(141,141,141)"/>
<rect x="364.80" y="165.57" width="4.10" height="4.48" fill="rgb(157,157,157)"/>
<rect x="368.60" y="165.57" width="4.10" height="4.48" fill="rgb(177,177,177)"/>
<rect x="372.40" y="165.57" width="4.10" height="4.48" fill="rgb(181,181,181)"/>
<rect x="376.20" y="165.57" width="4.10" height="4.48" fill="rgb(153,153,153)"/>
<rect x="383.80" y="165.57" width="4.10" height="4.48" fill="rgb(145,145,145)"/>
<rect x="387.60" y="165.57" width="4.10" height="4.48" fill="rgb(157,157,157)"/>
<rect x="391.40" y="165.57" width="4.10" height="4.48" fill="rgb(149,149,149)"/>
<rect x="395.20" y="165.57" width="4.10" height="4.48" fill="rgb(141,141,141)"/>
<rect x="399.00" y="165.57" width="4.10" height="4.48" fill="rgb(153,153,153)"/>
<rect x="402.80" y="165.57" width="4.10" height="4.48" fill="rgb(181,181,181)"/>
<rect x="406.60" y="165.57" width="4.10" height="4.48" fill="rgb(177,177,177)"/>
<rect x="410.40" y="165.57" width="4.10" height="4.48" fill="rgb(165,165,165)"/>
<rect x="414.20" y="165.57" width="23.10" height="4.48" fill="rgb(161,161,161)"/>
<rect x="437.00" y="165.57" width="4.10" height="4.48" fill="rgb(173,173,173)"/>
<rect x="440.80" y="165.57" width="4.10" height="4.48" fill="rgb(197,197,197)"/>
<rect x="444.60" y="165.57" width="4.10" height="4.48" fill="rgb(209,209,209)"/>
<rect x="448.40" y="165.57" width="4.10" height="4.48" fill="rgb(205,205,205)"/>
<rect x="452.20" y="165.57" width="4.10" height="4.48" fill="rgb(169,169,169)"/>
<rect x="456.00" y="165.57" width="15.50" height="4.48" fill="rgb(141,141,141)"/>
<rect x="471.20" y="165.57" width="4.10" height="4.48" fill="rgb(157,157,157)"/>
<rect x="475.00" y="165.57" width="4.10" height="4.48" fill="rgb(165,165,165)"/>
<rect x="478.80" y="165.57" width="4.10" height="4.48" fill="rgb(153,153,153)"/>
<rect x="482.60" y="165.57" width="4.10" height="4.48" fill="rgb(141,141,141)"/>
<rect x="486.40" y="165.57" width="11.70" height="4.48" fill="rgb(133,133,133)"/>
<rect x="501.60" y="165.57" width="7.90" height="4.48" fill="rgb(145,145,145)"/>
<rect x="509.20" y="165.57" width="4.10" height="4.48" fill="rgb(149,149,149)"/>
<rect x="361.00" y="169.74" width="4.10" height="4.48" fill="rgb(141,141,141)"/>
<rect x="364.80" y="169.74" width="4.10" height="4.48" fill="rgb(161,161,161)"/>
<rect x="368.60" y="169.74" width="4.10" height="4.48" fill="rgb(181,181,181)"/>
<rect x="372.40" y="169.74" width="4.10" height="4.48" fill="rgb(173,173,173)"/>
<rect x="376.20" y="169.74" width="4.10" height="4.48" fill="rgb(145,145,145)"/>
<rect x="383.80" y="169.74" width="4.10" height="4.48" fill="rgb(161,161,161)"/>
<rect x="387.60" y="169.74" width="4.10" height="4.48" fill="rgb(189,189,189)"/>
<rect x="391.40" y="169.74" width="4.10" height="4.48" fill="rgb(173,173,173)"/>
<rect x="395.20" y="169.74" width="4.10" height="4.48" fill="rgb(153,153,153)"/>
<rect x="399.00" y="169.74" width="4.10" height="4.48" fill="rgb(181,181,181)"/>
<rect x="402.80" y="169.74" width="4.10" height="4.48" fill="rgb(197,197,197)"/>
<rect x="406.60" y="169.74" width="4.10" height="4.48" fill="rgb(173,173,173)"/>
<rect x="410.40" y="169.74" width="30.70" height="4.48" fill="rgb(161,161,161)"/>
<rect x="440.80" y="169.74" width="4.10" height="4.48" fill="rgb(173,173,173)"/>
<rect x="444.60" y="169.74" width="4.10" height="4.48" fill="rgb(201,201,201)"/>
<rect x="448.40" y="169.74" width="4.10" height="4.48" fill="rgb(209,209,209)"/>
<rect x="452.20" y="169.74" width="4.10" height="4.48" fill="rgb(193,193,193)"/>
<rect x="456.00" y="169.74" width="4.10" height="4.48" fill="rgb(149,149,149)"/>
<rect x="471.20" y="169.74" width="11.70" height="4.48" fill="rgb(141,141,141)"/>
<rect x="486.40" y="169.74" width="11.70" height="4.48" fill="rgb(133,133,133)"/>
<rect x="497.80" y="169.74" width="4.10" height="4.48" fill="rgb(145,145,145)"/>
<rect x="501.60" y="169.74" width="11.70" height="4.48" fill="rgb(149,149,149)"/>
<rect x="361.00" y="173.92" width="4.10" height="4.48" fill="rgb(145,145,145)"/>
<rect x="364.80" y="173.92" width="4.10" height="4.48" fill="rgb(165,165,165)"/>
<rect x="368.60" y="173.92" width="4.10" height="4.48" fill="rgb(185,185,185)"/>
<rect x="372.40" y="173.92" width="4.10" height="4.48" fill="rgb(165,165,165)"/>
<rect x="376.20" y="173.92" width="7.90" height="4.48" fill="rgb(141,141,141)"/>
<rect x="383.80" y="173.92" width="4.10" height="4.48" fill="rgb(177,177,177)"/>
<rect x="387.60" y="173.92" width="4.10" height="4.48" fill="rgb(205,205,205)"/>
<rect x="391.40" y="173.92" width="4.10" height="4.48" fill="rgb(197,197,197)"/>
<rect x="395.20" y="173.92" width="4.10" height="4.48" fill="rgb(189,189,189)"/>
<rect x="399.00" y="173.92" width="4.10" height="4.48" fill="rgb(201,201,201)"/>
<rect x="402.80" y="173.92" width="4.10" height="4.48" fill="rgb(185,185,185)"/>
<rect x="406.60" y="173.92" width="38.30" height="4.48" fill="rgb(161,161,161)"/>
<rect x="444.60" y="173.92" width="4.10" height="4.48" fill="rgb(185,185,185)"/>
<rect x="448.40" y="173.92" width="4.10" height="4.48" fill="rgb(205,205,205)"/>
<rect x="452.20" y="173.92" width="4.10" height="4.48" fill="rgb(201,201,201)"/>
<rect x="456.00" y="173.92" width="4.10" height="4.48" fill="rgb(165,165,165)"/>
<rect x="486.40" y="173.92" width="7.90" height="4.48" fill="rgb(133,133,133)"/>
<rect x="497.80" y="173.92" width="4.10" height="4.48" fill="rgb(145,145,145)"/>
<rect x="501.60" y="173.92" width="11.70" height="4.48" fill="rgb(149,149,149)"/>
<rect x="361.00" y="178.10" width="4.10" height="4.48" fill="rgb(149,149,149)"/>
<rect x="364.80" y="178.10" width="4.10" height="4.48" fill="rgb(169,169,169)"/>
<rect x="368.60" y="178.10" width="4.10" height="4.48" fill="rgb(185,185,185)"/>
<rect x="372.40" y="178.10" width="4.10" height="4.48" fill="rgb(161,161,161)"/>
<rect x="380.00" y="178.10" width="4.10" height="4.48" fill="rgb(145,145,145)"/>
<rect x="383.80" y="178.10" width="4.10" height="4.48" fill="rgb(189,189,189)"/>
<rect x="387.60" y="178.10" width="11.70" height="4.48" fill="rgb(209,209,209)"/>
<rect x="399.00" y="178.10" width="4.10" height="4.48" fill="rgb(205,205,205)"/>
<rect x="402.80" y="178.10" width="4.10" height="4.48" fill="rgb(173,173,173)"/>
<rect x="406.60" y="178.10" width="38.30" height="4.48" fill="rgb(161,161,161)"/>
<rect x="444.60" y="178.10" width="4.10" height="4.48" fill="rgb(173,173,173)"/>
<rect x="448.40" y="178.10" width="7.90" height="4.48" fill="rgb(205,205,205)"/>
<rect x="456.00" y="178.10" width="4.10" height="4.48" fill="rgb(177,177,177)"/>
<rect x="459.80" y="178.10" width="4.10" height="4.48" fill="rgb(141,141,141)"/>
<rect x="486.40" y="178.10" width="7.90" height="4.48" fill="rgb(133,133,133)"/>
<rect x="497.80" y="178.10" width="15.50" height="4.48" fill="rgb(149,149,149)"/>
<rect x="361.00" y="182.28" width="4.10" height="4.48" fill="rgb(149,149,149)"/>
<rect x="364.80" y="182.28" width="4.10" height="4.48" fill="rgb(169,169,169)"/>
<rect x="368.60" y="182.28" width="4.10" height="4.48" fill="rgb(185,185,185)"/>
<rect x="372.40" y="182.28" width="4.10" height="4.48" fill="rgb(157,157,157)"/>
<rect x="380.00" y="182.28" width="4.10" height="4.48" fill="rgb(145,145,145)"/>
<rect x="383.80" y="182.28" width="4.10" height="4.48" fill="rgb(193,193,193)"/>
<rect x="387.60" y="182.28" width="11.70" height="4.48" fill="rgb(209,209,209)"/>
<rect x="399.00" y="182.28" width="4.10" height="4.48" fill="rgb(201,201,201)"/>
<rect x="402.80" y="182.28" width="4.10" height="4.48" fill="rgb(169,169,169)"/>
<rect x="406.60" y="182.28" width="38.30" height="4.48" fill="rgb(161,161,161)"/>
<rect x="444.60" y="182.28" width="4.10" height="4.48" fill="rgb(169,169,169)"/>
<rect x="448.40" y="182.28" width="4.10" height="4.48" fill="rgb(201,201,201)"/>
<rect x="452.20" y="182.28" width="4.10" height="4.48" fill="rgb(205,205,205)"/>
<rect x="456.00" y="182.28" width="4.10" height="4.48" fill="rgb(181,181,181)"/>
<rect x="459.80" y="182.28" width="4.10" height="4.48" fill="rgb(141,141,141)"/>
<rect x="486.40" y="182.28" width="7.90" height="4.48" fill="rgb(133,133,133)"/>
<rect x="497.80" y="182.28" width="11.70" height="4.48" fill="rgb(149,149,149)"/>
<rect x="509.20" y="182.28" width="4.10" height="4.48" fill="rgb(145,145,145)"/>
<rect x="361.00" y="186.46" width="4.10" height="4.48" fill="rgb(149,149,149)"/>
<rect x="364.80" y="186.46" width="4.10" height="4.48" fill="rgb(169,169,169)"/>
<rect x="368.60" y="186.46" width="4.10" height="4.48" fill="rgb(185,185,185)"/>
<rect x="372.40" y="186.46" width="4.10" height="4.48" fill="rgb(161,161,161)"/>
<rect x="380.00" y="186.46" width="4.10" height="4.48" fill="rgb(145,145,145)"/>
<rect x="383.80" y="186.46" width="4.10" height="4.48" fill="rgb(189,189,189)"/>
<rect x="387.60" y="186.46" width="11.70" height="4.48" fill="rgb(209,209,209)"/>
<rect x="399.00" y="186.46" width="4.10" height="4.48" fill="rgb(201,201,201)"/>
<rect x="402.80" y="186.46" width="4.10" height="4.48" fill="rgb(173,173,173)"/>
<rect x="406.60" y="186.46" width="38.30" height="4.48" fill="rgb(161,161,161)"/>
<rect x="444.60" y="186.46" width="4.10" height="4.48" fill="rgb(173,173,173)"/>
<rect x="448.40" y="186.46" width="4.10" height="4.48" fill="rgb(201,201,201)"/>
<rect x="452.20" y="186.46" width="4.10" height="4.48" fill="rgb(205,205,205)"/>
<rect x="456.00" y="186.46" width="4.10" height="4.48" fill="rgb(177,177,177)"/>
<rect x="459.80" y="186.46" width="4.10" height="4.48" fill="rgb(141,141,141)"/>
<rect x="486.40" y="186.46" width="7.90" height="4.48" fill="rgb(133,133,133)"/>
<rect x="497.80" y="186.46" width="11.70" height="4.48" fill="rgb(149,149,149)"/>
<rect x="509.20" y="186.46" width="4.10" height="4.48" fill="rgb(145,145,145)"/>
<rect x="361.00" y="190.63" width="4.10" height="4.48" fill="rgb(145,145,145)"/>
<rect x="364.80" y="190.63" width="4.10" height="4.48" fill="rgb(169,169,169)"/>
<rect x="368.60" y="190.63" width="4.10" height="4.48" fill="rgb(185,185,185)"/>
<rect x="372.40" y="190.63" width="4.10" height="4.48" fill="rgb(165,165,165)"/>
<rect x="376.20" y="190.63" width="7.90" height="4.48" fill="rgb(141,141,141)"/>
<rect x="383.80" y="190.63" width="4.10" height="4.48" fill="rgb(185,185,185)"/>
<rect x="387.60" y="190.63" width="11.70" height="4.48" fill="rgb(209,209,209)"/>
<rect x="399.00" y="190.63" width="4.10" height="4.48" fill="rgb(205,205,205)"/>
<rect x="402.80" y="190.63" width="4.10" height="4.48" fill="rgb(181,181,181)"/>
<rect x="406.60" y="190.63" width="38.30" height="4.48" fill="rgb(161,161,161)"/>
<rect x="444.60" y="190.63" width="4.10" height="4.48" fill="rgb(177,177,177)"/>
<rect x="448.40" y="190.63" width="4.10" height="4.48" fill="rgb(201,201,201)"/>
<rect x="452.20" y="190.63" width="4.10" height="4.48" fill="rgb(205,205,205)"/>
<rect x="456.00" y="190.63" width="4.10" height="4.48" fill="rgb(169,169,169)"/>
<rect x="459.80" y="190.63" width="4.10" height="4.48" fill="rgb(141,141,141)"/>
<rect x="486.40" y="190.63" width="7.90" height="4.48" fill="rgb(133,133,133)"/>
<rect x="497.80" y="190.63" width="15.50" height="4.48" fill="rgb(149,149,149)"/>
<rect x="361.00" y="194.81" width="4.10" height="4.48" fill="rgb(145,145,145)"/>
<rect x="364.80" y="194.81" width="4.10" height="4.48" fill="rgb(165,165,165)"/>
<rect x="368.60" y="194.81" width="4.10" height="4.48" fill="rgb(181,181,181)"/>
<rect x="372.40" y="194.81" width="4.10" height="4.48" fill="rgb(169,169,169)"/>
<rect x="376.20" y="194.81" width="7.90" height="4.48" fill="rgb(141,141,141)"/>
<rect x="383.80" y="194.81" width="4.10" height="4.48" fill="rgb(173,173,173)"/>
<rect x="387.60" y="194.81" width="4.10" height="4.48" fill="rgb(205,205,205)"/>
<rect x="391.40" y="194.81" width="11.70" height="4.48" fill="rgb(209,209,209)"/>
<rect x="402.80" y="194.81" width="4.10" height="4.48" fill="rgb(193,193,193)"/>
<rect x="406.60" y="194.81" width="4.10" height="4.48" fill="rgb(165,165,165)"/>
<rect x="410.40" y="194.81" width="34.50" height="4.48" fill="rgb(161,161,161)"/>
<rect x="444.60" y="194.81" width="4.10" height="4.48" fill="rgb(173,173,173)"/>
<rect x="448.40" y="194.81" width="7.90" height="4.48" fill="rgb(189,189,189)"/>
<rect x="456.00" y="194.81" width="4.10" height="4.48" fill="rgb(173,173,173)"/>
<rect x="459.80" y="194.81" width="4.10" height="4.48" fill="rgb(157,157,157)"/>
<rect x="463.60" y="194.81" width="4.10" height="4.48" fill="rgb(145,145,145)"/>
<rect x="467.40" y="194.81" width="4.10" height="4.48" fill="rgb(141,141,141)"/>
<rect x="486.40" y="194.81" width="7.90" height="4.48" fill="rgb(133,133,133)"/>
<rect x="497.80" y="194.81" width="15.50" height="4.48" fill="rgb(149,149,149)"/>
<rect x="361.00" y="198.99" width="4.10" height="4.48" fill="rgb(141,141,141)"/>
<rect x="364.80" y="198.99" width="4.10" height="4.48" fill="rgb(161,161,161)"/>
<rect x="368.60" y="198.99" width="4.10" height="4.48" fill="rgb(181,181,181)"/>
<rect x="372.40" y="198.99" width="4.10" height="4.48" fill="rgb(177,177,177)"/>
<rect x="376.20" y="198.99" width="4.10" height="4.48" fill="rgb(145,145,145)"/>
<rect x="383.80" y="198.99" width="4.10" height="4.48" fill="rgb(157,157,157)"/>
<rect x="387.60" y="198.99" width="4.10" height="4.48" fill="rgb(197,197,197)"/>
<rect x="391.40" y="198.99" width="4.10" height="4.48" fill="rgb(209,209,209)"/>
<rect x="395.20" y="198.99" width="11.70" height="4.48" fill="rgb(205,205,205)"/>
<rect x="406.60" y="198.99" width="4.10" height="4.48" fill="rgb(185,185,185)"/>
<rect x="410.40" y="198.99" width="4.10" height="4.48" fill="rgb(165,165,165)"/>
<rect x="414.20" y="198.99" width="26.90" height="4.48" fill="rgb(161,161,161)"/>
<rect x="440.80" y="198.99" width="4.10" height="4.48" fill="rgb(165,165,165)"/>
<rect x="444.60" y="198.99" width="4.10" height="4.48" fill="rgb(169,169,169)"/>
<rect x="448.40" y="198.99" width="4.10" height="4.48" fill="rgb(173,173,173)"/>
<rect x="452.20" y="198.99" width="4.10" height="4.48" fill="rgb(181,181,181)"/>
<rect x="456.00" y="198.99" width="4.10" height="4.48" fill="rgb(201,201,201)"/>
<rect x="459.80" y="198.99" width="4.10" height="4.48" fill="rgb(205,205,205)"/>
<rect x="463.60" y="198.99" width="4.10" height="4.48" fill="rgb(193,193,193)"/>
<rect x="467.40" y="198.99" width="4.10" height="4.48" fill="rgb(173,173,173)"/>
<rect x="471.20" y="198.99" width="4.10" height="4.48" fill="rgb(161,161,161)"/>
<rect x="475.00" y="198.99" width="4.10" height="4.48" fill="rgb(149,149,149)"/>
<rect x="478.80" y="198.99" width="4.10" height="4.48" fill="rgb(141,141,141)"/>
<rect x="486.40" y="198.99" width="11.70" height="4.48" fill="rgb(133,133,133)"/>
<rect x="497.80" y="198.99" width="4.10" height="4.48" fill="rgb(145,145,145)"/>
<rect x="501.60" y="198.99" width="11.70" height="4.48" fill="rgb(149,149,149)"/>
<rect x="364.80" y="203.17" width="4.10" height="4.48" fill="rgb(153,153,153)"/>
<rect x="368.60" y="203.17" width="4.10" height="4.48" fill="rgb(173,173,173)"/>
<rect x="372.40" y="203.17" width="4.10" height="4.48" fill="rgb(181,181,181)"/>
<rect x="376.20" y="203.17" width="4.10" height="4.48" fill="rgb(157,157,157)"/>
<rect x="383.80" y="203.17" width="4.10" height="4.48" fill="rgb(141,141,141)"/>
<rect x="387.60" y="203.17" width="4.10" height="4.48" fill="rgb(173,173,173)"/>
<rect x="391.40" y="203.17" width="4.10" height="4.48" fill="rgb(185,185,185)"/>
<rect x="395.20" y="203.17" width="4.10" height="4.48" fill="rgb(177,177,177)"/>
<rect x="399.00" y="203.17" width="4.10" height="4.48" fill="rgb(189,189,189)"/>
<rect x="402.80" y="203.17" width="7.90" height="4.48" fill="rgb(205,205,205)"/>
<rect x="410.40" y="203.17" width="4.10" height="4.48" fill="rgb(189,189,189)"/>
<rect x="414.20" y="203.17" width="4.10" height="4.48" fill="rgb(173,173,173)"/>
<rect x="418.00" y="203.17" width="4.10" height="4.48" fill="rgb(165,165,165)"/>
<rect x="421.80" y="203.17" width="7.90" height="4.48" fill="rgb(161,161,161)"/>
<rect x="429.40" y="203.17" width="4.10" height="4.48" fill="rgb(165,165,165)"/>
<rect x="433.20" y="203.17" width="4.10" height="4.48" fill="rgb(173,173,173)"/>
<rect x="437.00" y="203.17" width="4.10" height="4.48" fill="rgb(177,177,177)"/>
<rect x="440.80" y="203.17" width="4.10" height="4.48" fill="rgb(173,173,173)"/>
<rect x="444.60" y="203.17" width="7.90" height="4.48" fill="rgb(169,169,169)"/>
<rect x="452.20" y="203.17" width="4.10" height="4.48" fill="rgb(189,189,189)"/>
<rect x="456.00" y="203.17" width="4.10" height="4.48" fill="rgb(213,213,213)"/>
<rect x="459.80" y="203.17" width="7.90" height="4.48" fill="rgb(217,217,217)"/>
<rect x="467.40" y="203.17" width="4.10" height="4.48" fill="rgb(213,213,213)"/>
<rect x="471.20" y="203.17" width="4.10" height="4.48" fill="rgb(201,201,201)"/>
<rect x="475.00" y="203.17" width="4.10" height="4.48" fill="rgb(185,185,185)"/>
<rect x="478.80" y="203.17" width="4.10" height="4.48" fill="rgb(161,161,161)"/>
<rect x="482.60" y="203.17" width="4.10" height="4.48" fill="rgb(141,141,141)"/>
<rect x="486.40" y="203.17" width="11.70" height="4.48" fill="rgb(133,133,133)"/>
<rect x="497.80" y="203.17" width="4.10" height="4.48" fill="rgb(141,141,141)"/>
<rect x="501.60" y="203.17" width="11.70" height="4.48" fill="rgb(149,149,149)"/>
<rect x="364.80" y="207.35" width="4.10" height="4.48" fill="rgb(145,145,145)"/>
<rect x="368.60" y="207.35" width="4.10" height="4.48" fill="rgb(165,165,165)"/>
<rect x="372.40" y="207.35" width="4.10" height="4.48" fill="rgb(185,185,185)"/>
<rect x="376.20" y="207.35" width="4.10" height="4.48" fill="rgb(169,169,169)"/>
<rect x="380.00" y="207.35" width="4.10" height="4.48" fill="rgb(145,145,145)"/>
<rect x="387.60" y="207.35" width="4.10" height="4.48" fill="rgb(145,145,145)"/>
<rect x="391.40" y="207.35" width="4.10" height="4.48" fill="rgb(153,153,153)"/>
<rect x="395.20" y="207.35" width="4.10" height="4.48" fill="rgb(145,145,145)"/>
<rect x="399.00" y="207.35" width="4.10" height="4.48" fill="rgb(153,153,153)"/>
<rect x="402.80" y="207.35" width="4.10" height="4.48" fill="rgb(185,185,185)"/>
<rect x="406.60" y="207.35" width="4.10" height="4.48" fill="rgb(205,205,205)"/>
<rect x="410.40" y="207.35" width="4.10" height="4.48" fill="rgb(209,209,209)"/>
<rect x="414.20" y="207.35" width="4.10" height="4.48" fill="rgb(205,205,205)"/>
<rect x="418.00" y="207.35" width="4.10" height="4.48" fill="rgb(197,197,197)"/>
<rect x="421.80" y="207.35" width="4.10" height="4.48" fill="rgb(189,189,189)"/>
<rect x="425.60" y="207.35" width="4.10" height="4.48" fill="rgb(193,193,193)"/>
<rect x="429.40" y="207.35" width="4.10" height="4.48" fill="rgb(197,197,197)"/>
<rect x="433.20" y="207.35" width="4.10" height="4.48" fill="rgb(205,205,205)"/>
<rect x="437.00" y="207.35" width="4.10" height="4.48" fill="rgb(201,201,201)"/>
<rect x="440.80" y="207.35" width="4.10" height="4.48" fill="rgb(185,185,185)"/>
<rect x="444.60" y="207.35" width="4.10" height="4.48" fill="rgb(173,173,173)"/>
<rect x="448.40" y="207.35" width="4.10" height="4.48" fill="rgb(181,181,181)"/>
<rect x="452.20" y="207.35" width="4.10" height="4.48" fill="rgb(205,205,205)"/>
<rect x="456.00" y="207.35" width="19.30" height="4.48" fill="rgb(217,217,217)"/>
<rect x="475.00" y="207.35" width="4.10" height="4.48" fill="rgb(201,201,201)"/>
<rect x="478.80" y="207.35" width="4.10" height="4.48" fill="rgb(165,165,165)"/>
<rect x="482.60" y="207.35" width="4.10" height="4.48" fill="rgb(141,141,141)"/>
<rect x="490.20" y="207.35" width="7.90" height="4.48" fill="rgb(133,133,133)"/>
<rect x="501.60" y="207.35" width="4.10" height="4.48" fill="rgb(141,141,141)"/>
<rect x="505.40" y="207.35" width="7.90" height="4.48" fill="rgb(145,145,145)"/>
<rect x="364.80" y="211.53" width="4.10" height="4.48" fill="rgb(141,141,141)"/>
<rect x="368.60" y="211.53" width="4.10" height="4.48" fill="rgb(157,157,157)"/>
<rect x="372.40" y="211.53" width="4.10" height="4.48" fill="rgb(177,177,177)"/>
<rect x="376.20" y="211.53" width="4.10" height="4.48" fill="rgb(181,181,181)"/>
<rect x="380.00" y="211.53" width="4.10" height="4.48" fill="rgb(157,157,157)"/>
<rect x="402.80" y="211.53" width="4.10" height="4.48" fill="rgb(153,153,153)"/>
<rect x="406.60" y="211.53" width="4.10" height="4.48" fill="rgb(177,177,177)"/>
<rect x="410.40" y="211.53" width="4.10" height="4.48" fill="rgb(197,197,197)"/>
<rect x="414.20" y="211.53" width="4.10" height="4.48" fill="rgb(209,209,209)"/>
<rect x="418.00" y="211.53" width="19.30" height="4.48" fill="rgb(213,213,213)"/>
<rect x="437.00" y="211.53" width="4.10" height="4.48" fill="rgb(209,209,209)"/>
<rect x="440.80" y="211.53" width="4.10" height="4.48" fill="rgb(197,197,197)"/>
<rect x="444.60" y="211.53" width="4.10" height="4.48" fill="rgb(185,185,185)"/>
<rect x="448.40" y="211.53" width="4.10" height="4.48" fill="rgb(205,205,205)"/>
<rect x="452.20" y="211.53" width="19.30" height="4.48" fill="rgb(217,217,217)"/>
<rect x="471.20" y="211.53" width="4.10" height="4.48" fill="rgb(213,213,213)"/>
<rect x="475.00" y="211.53" width="4.10" height="4.48" fill="rgb(185,185,185)"/>
<rect x="478.80" y="211.53" width="4.10" height="4.48" fill="rgb(153,153,153)"/>
<rect x="490.20" y="211.53" width="23.10" height="4.48" fill="rgb(133,133,133)"/>
<rect x="368.60" y="215.70" width="4.10" height="4.48" fill="rgb(145,145,145)"/>
<rect x="372.40" y="215.70" width="4.10" height="4.48" fill="rgb(169,169,169)"/>
<rect x="376.20" y="215.70" width="4.10" height="4.48" fill="rgb(185,185,185)"/>
<rect x="380.00" y="215.70" width="4.10" height="4.48" fill="rgb(173,173,173)"/>
<rect x="383.80" y="215.70" width="4.10" height="4.48" fill="rgb(145,145,145)"/>
<rect x="406.60" y="215.70" width="4.10" height="4.48" fill="rgb(149,149,149)"/>
<rect x="410.40" y="215.70" width="4.10" height="4.48" fill="rgb(165,165,165)"/>
<rect x="414.20" y="215.70" width="4.10" height="4.48" fill="rgb(193,193,193)"/>
<rect x="418.00" y="215.70" width="23.10" height="4.48" fill="rgb(213,213,213)"/>
<rect x="440.80" y="215.70" width="7.90" height="4.48" fill="rgb(209,209,209)"/>
<rect x="448.40" y="215.70" width="23.10" height="4.48" fill="rgb(217,217,217)"/>
<rect x="471.20" y="215.70" width="4.10" height="4.48" fill="rgb(201,201,201)"/>
<rect x="475.00" y="215.70" width="4.10" height="4.48" fill="rgb(165,165,165)"/>
<rect x="478.80" y="215.70" width="4.10" height="4.48" fill="rgb(141,141,141)"/>
<rect x="497.80" y="215.70" width="15.50" height="4.48" fill="rgb(133,133,133)"/>
<rect x="372.40" y="219.88" width="4.10" height="4.48" fill="rgb(153,153,153)"/>
<rect x="376.20" y="219.88" width="7.90" height="4.48" fill="rgb(169,169,169)"/>
<rect x="383.80" y="219.88" width="4.10" height="4.48" fill="rgb(149,149,149)"/>
<rect x="410.40" y="219.88" width="4.10" height="4.48" fill="rgb(149,149,149)"/>
<rect x="414.20" y="219.88" width="4.10" height="4.48" fill="rgb(185,185,185)"/>
<rect x="418.00" y="219.88" width="23.10" height="4.48" fill="rgb(213,213,213)"/>
<rect x="440.80" y="219.88" width="26.90" height="4.48" fill="rgb(217,217,217)"/>
<rect x="467.40" y="219.88" width="4.10" height="4.48" fill="rgb(209,209,209)"/>
<rect x="471.20" y="219.88" width="4.10" height="4.48" fill="rgb(177,177,177)"/>
<rect x="475.00" y="219.88" width="4.10" height="4.48" fill="rgb(145,145,145)"/>
<rect x="376.20" y="224.06" width="4.10" height="4.48" fill="rgb(141,141,141)"/>
<rect x="380.00" y="224.06" width="4.10" height="4.48" fill="rgb(145,145,145)"/>
<rect x="410.40" y="224.06" width="4.10" height="4.48" fill="rgb(141,141,141)"/>
<rect x="414.20" y="224.06" width="4.10" height="4.48" fill="rgb(181,181,181)"/>
<rect x="418.00" y="224.06" width="4.10" height="4.48" fill="rgb(213,213,213)"/>
<rect x="421.80" y="224.06" width="42.10" height="4.48" fill="rgb(217,217,217)"/>
<rect x="463.60" y="224.06" width="4.10" height="4.48" fill="rgb(209,209,209)"/>
<rect x="467.40" y="224.06" width="4.10" height="4.48" fill="rgb(177,177,177)"/>
<rect x="471.20" y="224.06" width="4.10" height="4.48" fill="rgb(145,145,145)"/>
<rect x="361.00" y="228.24" width="34.50" height="4.48" fill="rgb(133,133,133)"/>
<rect x="410.40" y="228.24" width="4.10" height="4.48" fill="rgb(145,145,145)"/>
<rect x="414.20" y="228.24" width="4.10" height="4.48" fill="rgb(189,189,189)"/>
<rect x="418.00" y="228.24" width="42.10" height="4.48" fill="rgb(217,217,217)"/>
<rect x="459.80" y="228.24" width="4.10" height="4.48" fill="rgb(205,205,205)"/>
<rect x="463.60" y="228.24" width="4.10" height="4.48" fill="rgb(177,177,177)"/>
<rect x="467.40" y="228.24" width="4.10" height="4.48" fill="rgb(149,149,149)"/>
<rect x="357.20" y="232.42" width="11.70" height="4.48" fill="rgb(133,133,133)"/>
<rect x="372.40" y="232.42" width="7.90" height="4.48" fill="rgb(141,141,141)"/>
<rect x="380.00" y="232.42" width="23.10" height="4.48" fill="rgb(133,133,133)"/>
<rect x="410.40" y="232.42" width="4.10" height="4.48" fill="rgb(153,153,153)"/>
<rect x="414.20" y="232.42" width="4.10" height="4.48" fill="rgb(197,197,197)"/>
<rect x="418.00" y="232.42" width="34.50" height="4.48" fill="rgb(217,217,217)"/>
<rect x="452.20" y="232.42" width="4.10" height="4.48" fill="rgb(213,213,213)"/>
<rect x="456.00" y="232.42" width="4.10" height="4.48" fill="rgb(201,201,201)"/>
<rect x="459.80" y="232.42" width="4.10" height="4.48" fill="rgb(173,173,173)"/>
<rect x="463.60" y="232.42" width="4.10" height="4.48" fill="rgb(149,149,149)"/>
<rect x="353.40" y="236.60" width="15.50" height="4.48" fill="rgb(133,133,133)"/>
<rect x="368.60" y="236.60" width="4.10" height="4.48" fill="rgb(141,141,141)"/>
<rect x="372.40" y="236.60" width="7.90" height="4.48" fill="rgb(145,145,145)"/>
<rect x="383.80" y="236.60" width="19.30" height="4.48" fill="rgb(133,133,133)"/>
<rect x="410.40" y="236.60" width="4.10" height="4.48" fill="rgb(161,161,161)"/>
<rect x="414.20" y="236.60" width="4.10" height="4.48" fill="rgb(205,205,205)"/>
<rect x="418.00" y="236.60" width="26.90" height="4.48" fill="rgb(217,217,217)"/>
<rect x="444.60" y="236.60" width="4.10" height="4.48" fill="rgb(213,213,213)"/>
<rect x="448.40" y="236.60" width="4.10" height="4.48" fill="rgb(205,205,205)"/>
<rect x="452.20" y="236.60" width="4.10" height="4.48" fill="rgb(185,185,185)"/>
<rect x="456.00" y="236.60" width="4.10" height="4.48" fill="rgb(161,161,161)"/>
<rect x="459.80" y="236.60" width="4.10" height="4.48" fill="rgb(145,145,145)"/>
<rect x="353.40" y="240.77" width="11.70" height="4.48" fill="rgb(133,133,133)"/>
<rect x="368.60" y="240.77" width="11.70" height="4.48" fill="rgb(145,145,145)"/>
<rect x="380.00" y="240.77" width="4.10" height="4.48" fill="rgb(141,141,141)"/>
<rect x="383.80" y="240.77" width="23.10" height="4.48" fill="rgb(133,133,133)"/>
<rect x="410.40" y="240.77" width="4.10" height="4.48" fill="rgb(169,169,169)"/>
<rect x="414.20" y="240.77" width="4.10" height="4.48" fill="rgb(205,205,205)"/>
<rect x="418.00" y="240.77" width="15.50" height="4.48" fill="rgb(213,213,213)"/>
<rect x="433.20" y="240.77" width="4.10" height="4.48" fill="rgb(209,209,209)"/>
<rect x="437.00" y="240.77" width="4.10" height="4.48" fill="rgb(205,205,205)"/>
<rect x="440.80" y="240.77" width="4.10" height="4.48" fill="rgb(197,197,197)"/>
<rect x="444.60" y="240.77" width="4.10" height="4.48" fill="rgb(185,185,185)"/>
<rect x="448.40" y="240.77" width="4.10" height="4.48" fill="rgb(165,165,165)"/>
<rect x="452.20" y="240.77" width="4.10" height="4.48" fill="rgb(149,149,149)"/>
<rect x="456.00" y="240.77" width="4.10" height="4.48" fill="rgb(141,141,141)"/>
<rect x="349.60" y="244.95" width="15.50" height="4.48" fill="rgb(133,133,133)"/>
<rect x="368.60" y="244.95" width="4.10" height="4.48" fill="rgb(141,141,141)"/>
<rect x="372.40" y="244.95" width="7.90" height="4.48" fill="rgb(145,145,145)"/>
<rect x="380.00" y="244.95" width="4.10" height="4.48" fill="rgb(141,141,141)"/>
<rect x="387.60" y="244.95" width="19.30" height="4.48" fill="rgb(133,133,133)"/>
<rect x="410.40" y="244.95" width="4.10" height="4.48" fill="rgb(153,153,153)"/>
<rect x="414.20" y="244.95" width="4.10" height="4.48" fill="rgb(173,173,173)"/>
<rect x="418.00" y="244.95" width="11.70" height="4.48" fill="rgb(181,181,181)"/>
<rect x="429.40" y="244.95" width="4.10" height="4.48" fill="rgb(177,177,177)"/>
<rect x="433.20" y="244.95" width="4.10" height="4.48" fill="rgb(173,173,173)"/>
<rect x="437.00" y="244.95" width="4.10" height="4.48" fill="rgb(165,165,165)"/>
<rect x="440.80" y="244.95" width="4.10" height="4.48" fill="rgb(153,153,153)"/>
<rect x="444.60" y="244.95" width="4.10" height="4.48" fill="rgb(145,145,145)"/>
<rect x="448.40" y="244.95" width="4.10" height="4.48" fill="rgb(141,141,141)"/>
<rect x="349.60" y="249.13" width="11.70" height="4.48" fill="rgb(133,133,133)"/>
<rect x="364.80" y="249.13" width="15.50" height="4.48" fill="rgb(145,145,145)"/>
<rect x="380.00" y="249.13" width="4.10" height="4.48" fill="rgb(149,149,149)"/>
<rect x="383.80" y="249.13" width="7.90" height="4.48" fill="rgb(145,145,145)"/>
<rect x="391.40" y="249.13" width="4.10" height="4.48" fill="rgb(141,141,141)"/>
<rect x="399.00" y="249.13" width="11.70" height="4.48" fill="rgb(133,133,133)"/>
<rect x="414.20" y="249.13" width="7.90" height="4.48" fill="rgb(141,141,141)"/>
<rect x="421.80" y="249.13" width="7.90" height="4.48" fill="rgb(145,145,145)"/>
<rect x="429.40" y="249.13" width="7.90" height="4.48" fill="rgb(141,141,141)"/>
<rect x="349.60" y="253.31" width="7.90" height="4.48" fill="rgb(133,133,133)"/>
<rect x="357.20" y="253.31" width="4.10" height="4.48" fill="rgb(141,141,141)"/>
<rect x="361.00" y="253.31" width="34.50" height="4.48" fill="rgb(149,149,149)"/>
<rect x="395.20" y="253.31" width="4.10" height="4.48" fill="rgb(145,145,145)"/>
<rect x="402.80" y="253.31" width="7.90" height="4.48" fill="rgb(133,133,133)"/>
<rect x="349.60" y="257.49" width="4.10" height="4.48" fill="rgb(133,133,133)"/>
<rect x="357.20" y="257.49" width="4.10" height="4.48" fill="rgb(145,145,145)"/>
<rect x="361.00" y="257.49" width="38.30" height="4.48" fill="rgb(149,149,149)"/>
<rect x="399.00" y="257.49" width="4.10" height="4.48" fill="rgb(145,145,145)"/>
<rect x="406.60" y="257.49" width="4.10" height="4.48" fill="rgb(133,133,133)"/>
<rect x="345.80" y="261.67" width="7.90" height="4.48" fill="rgb(133,133,133)"/>
<rect x="353.40" y="261.67" width="4.10" height="4.48" fill="rgb(141,141,141)"/>
<rect x="357.20" y="261.67" width="15.50" height="4.48" fill="rgb(149,149,149)"/>
<rect x="372.40" y="261.67" width="11.70" height="4.48" fill="rgb(141,141,141)"/>
<rect x="383.80" y="261.67" width="19.30" height="4.48" fill="rgb(149,149,149)"/>
<rect x="406.60" y="261.67" width="4.10" height="4.48" fill="rgb(133,133,133)"/>
<rect x="349.60" y="265.84" width="4.10" height="4.48" fill="rgb(133,133,133)"/>
<rect x="353.40" y="265.84" width="4.10" height="4.48" fill="rgb(141,141,141)"/>
<rect x="357.20" y="265.84" width="11.70" height="4.48" fill="rgb(149,149,149)"/>
<rect x="368.60" y="265.84" width="4.10" height="4.48" fill="rgb(145,145,145)"/>
<rect x="383.80" y="265.84" width="4.10" height="4.48" fill="rgb(145,145,145)"/>
<rect x="387.60" y="265.84" width="15.50" height="4.48" fill="rgb(149,149,149)"/>
<rect x="402.80" y="265.84" width="4.10" height="4.48" fill="rgb(141,141,141)"/>
<rect x="406.60" y="265.84" width="4.10" height="4.48" fill="rgb(133,133,133)"/>
<rect x="349.60" y="270.02" width="4.10" height="4.48" fill="rgb(133,133,133)"/>
<rect x="353.40" y="270.02" width="4.10" height="4.48" fill="rgb(141,141,141)"/>
<rect x="357.20" y="270.02" width="15.50" height="4.48" fill="rgb(149,149,149)"/>
<rect x="372.40" y="270.02" width="4.10" height="4.48" fill="rgb(145,145,145)"/>
<rect x="376.20" y="270.02" width="4.10" height="4.48" fill="rgb(141,141,141)"/>
<rect x="380.00" y="270.02" width="4.10" height="4.48" fill="rgb(145,145,145)"/>
<rect x="383.80" y="270.02" width="19.30" height="4.48" fill="rgb(149,149,149)"/>
<rect x="406.60" y="270.02" width="4.10" height="4.48" fill="rgb(133,133,133)"/>
</g>
<path d="M345.80 82.0V274.2M349.60 82.0V274.2M353.40 82.0V274.2M357.20 82.0V274.2M361.00 82.0V274.2M364.80 82.0V274.2M368.60 82.0V274.2M372.40 82.0V274.2M376.20 82.0V274.2M380.00 82.0V274.2M383.80 82.0V274.2M387.60 82.0V274.2M391.40 82.0V274.2M395.20 82.0V274.2M399.00 82.0V274.2M402.80 82.0V274.2M406.60 82.0V274.2M410.40 82.0V274.2M414.20 82.0V274.2M418.00 82.0V274.2M421.80 82.0V274.2M425.60 82.0V274.2M429.40 82.0V274.2M433.20 82.0V274.2M437.00 82.0V274.2M440.80 82.0V274.2M444.60 82.0V274.2M448.40 82.0V274.2M452.20 82.0V274.2M456.00 82.0V274.2M459.80 82.0V274.2M463.60 82.0V274.2M467.40 82.0V274.2M471.20 82.0V274.2M475.00 82.0V274.2M478.80 82.0V274.2M482.60 82.0V274.2M486.40 82.0V274.2M490.20 82.0V274.2M494.00 82.0V274.2M497.80 82.0V274.2M501.60 82.0V274.2M505.40 82.0V274.2M509.20 82.0V274.2M342.0 86.18H513.0M342.0 90.36H513.0M342.0 94.53H513.0M342.0 98.71H513.0M342.0 102.89H513.0M342.0 107.07H513.0M342.0 111.25H513.0M342.0 115.43H513.0M342.0 119.60H513.0M342.0 123.78H513.0M342.0 127.96H513.0M342.0 132.14H513.0M342.0 136.32H513.0M342.0 140.50H513.0M342.0 144.67H513.0M342.0 148.85H513.0M342.0 153.03H513.0M342.0 157.21H513.0M342.0 161.39H513.0M342.0 165.57H513.0M342.0 169.74H513.0M342.0 173.92H513.0M342.0 178.10H513.0M342.0 182.28H513.0M342.0 186.46H513.0M342.0 190.63H513.0M342.0 194.81H513.0M342.0 198.99H513.0M342.0 203.17H513.0M342.0 207.35H513.0M342.0 211.53H513.0M342.0 215.70H513.0M342.0 219.88H513.0M342.0 224.06H513.0M342.0 228.24H513.0M342.0 232.42H513.0M342.0 236.60H513.0M342.0 240.77H513.0M342.0 244.95H513.0M342.0 249.13H513.0M342.0 253.31H513.0M342.0 257.49H513.0M342.0 261.67H513.0M342.0 265.84H513.0M342.0 270.02H513.0" stroke="#fff" stroke-opacity="0.08" stroke-width="1" fill="none"/>
</g>
<g shape-rendering="crispEdges">
<rect x="409.60" y="166.40" width="5.32" height="5.11" fill="#d80000"/><rect x="414.67" y="166.40" width="5.32" height="5.11" fill="#100000"/><rect x="419.73" y="166.40" width="5.32" height="5.11" fill="#ee1010"/><rect x="424.80" y="166.40" width="5.32" height="5.11" fill="#ff5500"/><rect x="429.87" y="166.40" width="5.32" height="5.11" fill="#ffb000"/><rect x="434.93" y="166.40" width="5.32" height="5.11" fill="#ffb000"/><rect x="409.60" y="171.26" width="5.32" height="5.11" fill="#ff2000"/><rect x="414.67" y="171.26" width="5.32" height="5.11" fill="#c00000"/><rect x="419.73" y="171.26" width="5.32" height="5.11" fill="#ff1800"/><rect x="424.80" y="171.26" width="5.32" height="5.11" fill="#ff9c00"/><rect x="429.87" y="171.26" width="5.32" height="5.11" fill="#ff6800"/><rect x="434.93" y="171.26" width="5.32" height="5.11" fill="#ff9c00"/><rect x="409.60" y="176.11" width="5.32" height="5.11" fill="#ff8c00"/><rect x="414.67" y="176.11" width="5.32" height="5.11" fill="#ff6000"/><rect x="419.73" y="176.11" width="5.32" height="5.11" fill="#ff5800"/><rect x="424.80" y="176.11" width="5.32" height="5.11" fill="#ff9800"/><rect x="429.87" y="176.11" width="5.32" height="5.11" fill="#ff9c00"/><rect x="434.93" y="176.11" width="5.32" height="5.11" fill="#ffff20"/><rect x="409.60" y="180.97" width="5.32" height="5.11" fill="#ffd800"/><rect x="414.67" y="180.97" width="5.32" height="5.11" fill="#ffa000"/><rect x="419.73" y="180.97" width="5.32" height="5.11" fill="#ffb800"/><rect x="424.80" y="180.97" width="5.32" height="5.11" fill="#ffe000"/><rect x="429.87" y="180.97" width="5.32" height="5.11" fill="#ffff20"/><rect x="434.93" y="180.97" width="5.32" height="5.11" fill="#ffff20"/><rect x="409.60" y="185.83" width="5.32" height="5.11" fill="#ffff10"/><rect x="414.67" y="185.83" width="5.32" height="5.11" fill="#ffc400"/><rect x="419.73" y="185.83" width="5.32" height="5.11" fill="#ffd800"/><rect x="424.80" y="185.83" width="5.32" height="5.11" fill="#ffb800"/><rect x="429.87" y="185.83" width="5.32" height="5.11" fill="#ffff30"/><rect x="434.93" y="185.83" width="5.32" height="5.11" fill="#ffdc00"/><rect x="409.60" y="190.69" width="5.32" height="5.11" fill="#ffff50"/><rect x="414.67" y="190.69" width="5.32" height="5.11" fill="#ffe800"/><rect x="419.73" y="190.69" width="5.32" height="5.11" fill="#ffff20"/><rect x="424.80" y="190.69" width="5.32" height="5.11" fill="#ffff40"/><rect x="429.87" y="190.69" width="5.32" height="5.11" fill="#ffff60"/><rect x="434.93" y="190.69" width="5.32" height="5.11" fill="#ffff50"/><rect x="409.60" y="195.54" width="5.32" height="5.11" fill="#ffffff"/><rect x="414.67" y="195.54" width="5.32" height="5.11" fill="#ffff30"/><rect x="419.73" y="195.54" width="5.32" height="5.11" fill="#ffff70"/><rect x="424.80" y="195.54" width="5.32" height="5.11" fill="#ffff80"/><rect x="429.87" y="195.54" width="5.32" height="5.11" fill="#ffffa0"/><rect x="434.93" y="195.54" width="5.32" height="5.11" fill="#ffffff"/>
<rect x="446.40" y="207.50" width="5.25" height="5.55" fill="#ff9f00"/><rect x="451.40" y="207.50" width="5.25" height="5.55" fill="#ffa800"/><rect x="456.40" y="207.50" width="5.25" height="5.55" fill="#ff9e00"/><rect x="461.40" y="207.50" width="5.25" height="5.55" fill="#ff9400"/><rect x="441.40" y="212.80" width="5.25" height="5.55" fill="#ffa400"/><rect x="446.40" y="212.80" width="5.25" height="5.55" fill="#ffb800"/><rect x="451.40" y="212.80" width="5.25" height="5.55" fill="#ffa600"/><rect x="456.40" y="212.80" width="5.25" height="5.55" fill="#ff9d00"/><rect x="461.40" y="212.80" width="5.25" height="5.55" fill="#ff9500"/><rect x="426.40" y="218.10" width="5.25" height="5.55" fill="#ff9000"/><rect x="431.40" y="218.10" width="5.25" height="5.55" fill="#ff9800"/><rect x="436.40" y="218.10" width="5.25" height="5.55" fill="#ffa800"/><rect x="441.40" y="218.10" width="5.25" height="5.55" fill="#ffab00"/><rect x="446.40" y="218.10" width="5.25" height="5.55" fill="#ffa600"/><rect x="451.40" y="218.10" width="5.25" height="5.55" fill="#ff9a00"/><rect x="456.40" y="218.10" width="5.25" height="5.55" fill="#ff9400"/><rect x="426.40" y="223.40" width="5.25" height="5.55" fill="#ff9400"/><rect x="431.40" y="223.40" width="5.25" height="5.55" fill="#ff9800"/><rect x="436.40" y="223.40" width="5.25" height="5.55" fill="#ff9c00"/><rect x="441.40" y="223.40" width="5.25" height="5.55" fill="#ff9e00"/><rect x="446.40" y="223.40" width="5.25" height="5.55" fill="#ff9c00"/><rect x="451.40" y="223.40" width="5.25" height="5.55" fill="#ff9800"/><rect x="456.40" y="223.40" width="5.25" height="5.55" fill="#ff9200"/><rect x="431.40" y="228.70" width="5.25" height="5.55" fill="#ff9000"/><rect x="436.40" y="228.70" width="5.25" height="5.55" fill="#ff9400"/><rect x="441.40" y="228.70" width="5.25" height="5.55" fill="#ff9600"/><rect x="446.40" y="228.70" width="5.25" height="5.55" fill="#ff9400"/>
</g>
<g shape-rendering="crispEdges">
<rect x="60.20" y="315.40" width="23.18" height="23.22" fill="#d80000"/><rect x="83.13" y="315.40" width="23.18" height="23.22" fill="#100000"/><rect x="106.07" y="315.40" width="23.18" height="23.22" fill="#ee1010"/><rect x="129.00" y="315.40" width="23.18" height="23.22" fill="#ff5500"/><rect x="151.93" y="315.40" width="23.18" height="23.22" fill="#ffb000"/><rect x="174.87" y="315.40" width="23.18" height="23.22" fill="#ffb000"/><rect x="60.20" y="338.37" width="23.18" height="23.22" fill="#ff2000"/><rect x="83.13" y="338.37" width="23.18" height="23.22" fill="#c00000"/><rect x="106.07" y="338.37" width="23.18" height="23.22" fill="#ff1800"/><rect x="129.00" y="338.37" width="23.18" height="23.22" fill="#ff9c00"/><rect x="151.93" y="338.37" width="23.18" height="23.22" fill="#ff6800"/><rect x="174.87" y="338.37" width="23.18" height="23.22" fill="#ff9c00"/><rect x="60.20" y="361.34" width="23.18" height="23.22" fill="#ff8c00"/><rect x="83.13" y="361.34" width="23.18" height="23.22" fill="#ff6000"/><rect x="106.07" y="361.34" width="23.18" height="23.22" fill="#ff5800"/><rect x="129.00" y="361.34" width="23.18" height="23.22" fill="#ff9800"/><rect x="151.93" y="361.34" width="23.18" height="23.22" fill="#ff9c00"/><rect x="174.87" y="361.34" width="23.18" height="23.22" fill="#ffff20"/><rect x="60.20" y="384.31" width="23.18" height="23.22" fill="#ffd800"/><rect x="83.13" y="384.31" width="23.18" height="23.22" fill="#ffa000"/><rect x="106.07" y="384.31" width="23.18" height="23.22" fill="#ffb800"/><rect x="129.00" y="384.31" width="23.18" height="23.22" fill="#ffe000"/><rect x="151.93" y="384.31" width="23.18" height="23.22" fill="#ffff20"/><rect x="174.87" y="384.31" width="23.18" height="23.22" fill="#ffff20"/><rect x="60.20" y="407.29" width="23.18" height="23.22" fill="#ffff10"/><rect x="83.13" y="407.29" width="23.18" height="23.22" fill="#ffc400"/><rect x="106.07" y="407.29" width="23.18" height="23.22" fill="#ffd800"/><rect x="129.00" y="407.29" width="23.18" height="23.22" fill="#ffb800"/><rect x="151.93" y="407.29" width="23.18" height="23.22" fill="#ffff30"/><rect x="174.87" y="407.29" width="23.18" height="23.22" fill="#ffdc00"/><rect x="60.20" y="430.26" width="23.18" height="23.22" fill="#ffff50"/><rect x="83.13" y="430.26" width="23.18" height="23.22" fill="#ffe800"/><rect x="106.07" y="430.26" width="23.18" height="23.22" fill="#ffff20"/><rect x="129.00" y="430.26" width="23.18" height="23.22" fill="#ffff40"/><rect x="151.93" y="430.26" width="23.18" height="23.22" fill="#ffff60"/><rect x="174.87" y="430.26" width="23.18" height="23.22" fill="#ffff50"/><rect x="60.20" y="453.23" width="23.18" height="23.22" fill="#ffffff"/><rect x="83.13" y="453.23" width="23.18" height="23.22" fill="#ffff30"/><rect x="106.07" y="453.23" width="23.18" height="23.22" fill="#ffff70"/><rect x="129.00" y="453.23" width="23.18" height="23.22" fill="#ffff80"/><rect x="151.93" y="453.23" width="23.18" height="23.22" fill="#ffffa0"/><rect x="174.87" y="453.23" width="23.18" height="23.22" fill="#ffffff"/>
</g>
<rect x="60.2" y="315.4" width="137.6" height="160.8" fill="none" stroke="#444" stroke-width="0.8"/>
<path d="M71.7 476.2v-1.6M71.7 315.4v1.6M94.6 476.2v-1.6M94.6 315.4v1.6M117.5 476.2v-1.6M117.5 315.4v1.6M140.5 476.2v-1.6M140.5 315.4v1.6M163.4 476.2v-1.6M163.4 315.4v1.6M186.3 476.2v-1.6M186.3 315.4v1.6M60.2 326.9h1.6M197.8 326.9h-1.6M60.2 349.9h1.6M197.8 349.9h-1.6M60.2 372.8h1.6M197.8 372.8h-1.6M60.2 395.8h1.6M197.8 395.8h-1.6M60.2 418.8h1.6M197.8 418.8h-1.6M60.2 441.7h1.6M197.8 441.7h-1.6M60.2 464.7h1.6M197.8 464.7h-1.6" stroke="#333" stroke-width="0.7"/>
<g font-size="6.6px" fill="#383838" stroke="#383838" stroke-width="0.15" text-anchor="middle">
<text x="71.7" y="486">1</text>
<text x="94.6" y="486">2</text>
<text x="117.5" y="486">3</text>
<text x="140.5" y="486">4</text>
<text x="163.4" y="486">5</text>
<text x="186.3" y="486">6</text>
<text x="54.6" y="329.3">1</text>
<text x="54.6" y="352.3">2</text>
<text x="54.6" y="375.2">3</text>
<text x="54.6" y="398.2">4</text>
<text x="54.6" y="421.2">5</text>
<text x="54.6" y="444.1">6</text>
<text x="54.6" y="467.1">7</text>
</g>
<text x="59.3" y="308.2" font-size="8.4px" font-weight="bold" fill="#111" stroke="#111" stroke-width="0.2" textLength="147.5" lengthAdjust="spacingAndGlyphs">Temperature mapping for the electrode</text>
<rect x="204" y="315.4" width="12.6" height="160.8" fill="url(#hot)" stroke="#bbb" stroke-width="0.8"/>
<g font-size="8.6px" font-weight="bold" fill="#222">
<text x="226.4" y="325.3" textLength="9.6" lengthAdjust="spacingAndGlyphs">96</text>
<text x="226.4" y="346.7" textLength="9.6" lengthAdjust="spacingAndGlyphs">94</text>
<text x="226.4" y="368.2" textLength="9.6" lengthAdjust="spacingAndGlyphs">92</text>
<text x="226.4" y="389.6" textLength="9.6" lengthAdjust="spacingAndGlyphs">90</text>
<text x="226.4" y="411.0" textLength="9.6" lengthAdjust="spacingAndGlyphs">88</text>
<text x="226.4" y="432.5" textLength="9.6" lengthAdjust="spacingAndGlyphs">84</text>
<text x="226.4" y="453.9" textLength="9.6" lengthAdjust="spacingAndGlyphs">82</text>
<text x="226.4" y="475.3" textLength="9.6" lengthAdjust="spacingAndGlyphs">80</text>
</g>
<path d="M216.6 317.1h-1.6M216.6 337.0h-1.6M216.6 356.9h-1.6M216.6 376.8h-1.6M216.6 396.7h-1.6M216.6 416.6h-1.6M216.6 436.5h-1.6M216.6 456.4h-1.6" stroke="#555" stroke-width="0.6"/>
<path d="M485.5 333.2h-1.6M485.5 352.7h-1.6M485.5 372.1h-1.6M485.5 391.6h-1.6M485.5 411.1h-1.6M485.5 430.5h-1.6M485.5 450.0h-1.6" stroke="#733" stroke-width="0.6"/>
<path d="M96 516.5H164M342 487V516.5H422V487" fill="none" stroke="#f5f5f5" stroke-width="1"/>
<g font-size="19.5px" fill="#111">
<text x="102.0" y="510" textLength="61" lengthAdjust="spacingAndGlyphs">X Pixels</text>
<text x="349.6" y="510" textLength="61" lengthAdjust="spacingAndGlyphs">X Pixels</text>
<text transform="translate(41.8,423.3) rotate(-90)" textLength="60.3" lengthAdjust="spacingAndGlyphs">Y Pixels</text>
<text transform="translate(287.0,414.4) rotate(-90)" textLength="60.3" lengthAdjust="spacingAndGlyphs">Y Pixels</text>
<text transform="translate(262,469.9) rotate(-90)" textLength="139" lengthAdjust="spacingAndGlyphs">Temperature [°C]</text>
<text transform="translate(535.6,459.1) rotate(-90)" textLength="139" lengthAdjust="spacingAndGlyphs">Temperature [°C]</text>
</g>
<rect x="307.6" y="314.7" width="157.8" height="155.7" fill="#eeece3"/>
<g shape-rendering="crispEdges">
<rect x="381.90" y="341.70" width="16.70" height="16.50" fill="#ff9f00"/><rect x="398.30" y="341.70" width="16.40" height="16.50" fill="#ffa800"/><rect x="414.40" y="341.70" width="16.30" height="16.50" fill="#ff9e00"/><rect x="430.40" y="341.70" width="16.10" height="16.50" fill="#ff9400"/><rect x="363.40" y="357.90" width="18.80" height="16.50" fill="#ffa400"/><rect x="381.90" y="357.90" width="16.70" height="16.50" fill="#ffb800"/><rect x="398.30" y="357.90" width="16.40" height="16.50" fill="#ffa600"/><rect x="414.40" y="357.90" width="16.30" height="16.50" fill="#ff9d00"/><rect x="430.40" y="357.90" width="16.10" height="16.50" fill="#ff9500"/><rect x="313.00" y="374.10" width="16.70" height="16.50" fill="#ff9000"/><rect x="329.40" y="374.10" width="16.70" height="16.50" fill="#ff9800"/><rect x="345.80" y="374.10" width="17.90" height="16.50" fill="#ffa800"/><rect x="363.40" y="374.10" width="16.70" height="16.50" fill="#ffab00"/><rect x="379.80" y="374.10" width="16.90" height="16.50" fill="#ffa600"/><rect x="396.40" y="374.10" width="16.70" height="16.50" fill="#ff9a00"/><rect x="412.80" y="374.10" width="14.20" height="16.50" fill="#ff9400"/><rect x="313.00" y="390.30" width="16.70" height="16.50" fill="#ff9400"/><rect x="329.40" y="390.30" width="16.70" height="16.50" fill="#ff9800"/><rect x="345.80" y="390.30" width="17.90" height="16.50" fill="#ff9c00"/><rect x="363.40" y="390.30" width="16.70" height="16.50" fill="#ff9e00"/><rect x="379.80" y="390.30" width="16.90" height="16.50" fill="#ff9c00"/><rect x="396.40" y="390.30" width="16.70" height="16.50" fill="#ff9800"/><rect x="412.80" y="390.30" width="14.20" height="16.50" fill="#ff9200"/><rect x="330.00" y="406.50" width="16.70" height="16.50" fill="#ff9000"/><rect x="346.40" y="406.50" width="16.80" height="16.50" fill="#ff9400"/><rect x="362.90" y="406.50" width="16.80" height="16.50" fill="#ff9600"/><rect x="379.40" y="406.50" width="16.70" height="16.50" fill="#ff9400"/>
</g>
<text x="307.6" y="308.2" font-size="8.4px" font-weight="bold" fill="#111" stroke="#111" stroke-width="0.2" textLength="138" lengthAdjust="spacingAndGlyphs">Temperature mapping for the heater</text>
<g font-size="6.8px" fill="#484848" text-anchor="middle">
<text x="301.6" y="331.1">69</text>
<text x="301.6" y="347.2">70</text>
<text x="301.6" y="363.4">71</text>
<text x="301.6" y="379.5">72</text>
<text x="301.6" y="395.7">73</text>
<text x="301.6" y="411.8">74</text>
<text x="301.6" y="428.0">75</text>
<text x="301.6" y="444.1">76</text>
<text x="301.6" y="460.3">77</text>
<text x="319.7" y="476.7">162</text>
<text x="354.1" y="476.7">164</text>
<text x="388.5" y="476.7">166</text>
<text x="422.9" y="476.7">168</text>
<text x="457.3" y="476.7">170</text>
</g>
<rect x="471.5" y="313.8" width="14" height="155.6" fill="url(#aut)" stroke="#bbb" stroke-width="0.8"/>
<g font-size="8.2px" font-weight="bold" fill="#222">
<text x="497.3" y="317.4" textLength="13.2" lengthAdjust="spacingAndGlyphs">100</text>
<text x="497.3" y="337.4" textLength="8.9" lengthAdjust="spacingAndGlyphs">90</text>
<text x="497.3" y="357.5" textLength="8.9" lengthAdjust="spacingAndGlyphs">80</text>
<text x="497.3" y="377.5" textLength="8.9" lengthAdjust="spacingAndGlyphs">70</text>
<text x="497.3" y="397.6" textLength="8.9" lengthAdjust="spacingAndGlyphs">60</text>
<text x="497.3" y="417.6" textLength="8.9" lengthAdjust="spacingAndGlyphs">50</text>
<text x="497.3" y="437.7" textLength="8.9" lengthAdjust="spacingAndGlyphs">40</text>
<text x="497.3" y="457.8" textLength="8.9" lengthAdjust="spacingAndGlyphs">30</text>
<text x="497.3" y="477.8" textLength="8.9" lengthAdjust="spacingAndGlyphs">20</text>
</g>
</svg></body></html>
